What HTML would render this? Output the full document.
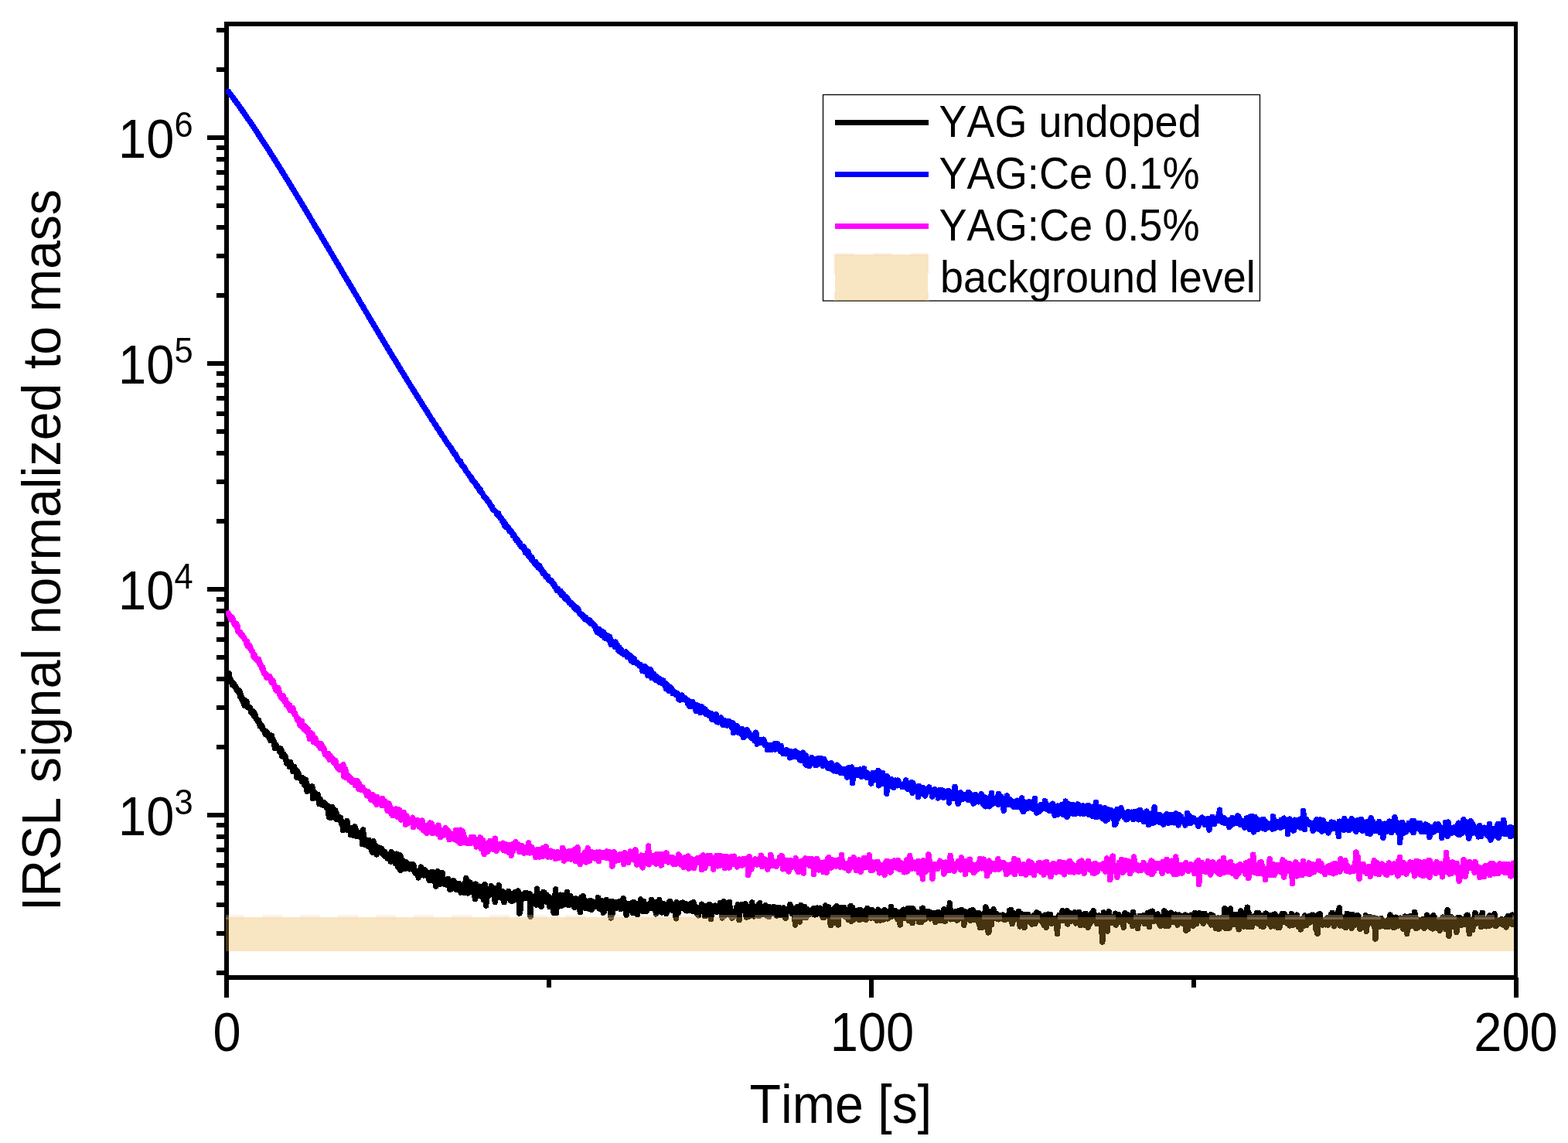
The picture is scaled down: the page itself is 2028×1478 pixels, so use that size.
<!DOCTYPE html>
<html><head><meta charset="utf-8"><title>IRSL signal vs time</title><style>
html,body{margin:0;padding:0;background:#fff;}
svg{display:block;}
text{font-family:"Liberation Sans", Arial, sans-serif;fill:#000;font-kerning:none;}
</style></head><body>
<svg width="2028" height="1478" viewBox="0 0 2028 1478">
<rect width="2028" height="1478" fill="#fff"/>
<g fill="#000"><rect x="268" y="1051" width="26" height="6"/><rect x="268" y="759" width="26" height="6"/><rect x="268" y="467" width="26" height="6"/><rect x="268" y="175" width="26" height="6"/><rect x="280" y="1255" width="14" height="6"/><rect x="280" y="1204" width="14" height="6"/><rect x="280" y="1167" width="14" height="6"/><rect x="280" y="1139" width="14" height="6"/><rect x="280" y="1116" width="14" height="6"/><rect x="280" y="1096" width="14" height="6"/><rect x="280" y="1079" width="14" height="6"/><rect x="280" y="1064" width="14" height="6"/><rect x="280" y="963" width="14" height="6"/><rect x="280" y="912" width="14" height="6"/><rect x="280" y="875" width="14" height="6"/><rect x="280" y="847" width="14" height="6"/><rect x="280" y="824" width="14" height="6"/><rect x="280" y="804" width="14" height="6"/><rect x="280" y="787" width="14" height="6"/><rect x="280" y="772" width="14" height="6"/><rect x="280" y="671" width="14" height="6"/><rect x="280" y="620" width="14" height="6"/><rect x="280" y="583" width="14" height="6"/><rect x="280" y="555" width="14" height="6"/><rect x="280" y="532" width="14" height="6"/><rect x="280" y="512" width="14" height="6"/><rect x="280" y="495" width="14" height="6"/><rect x="280" y="480" width="14" height="6"/><rect x="280" y="379" width="14" height="6"/><rect x="280" y="328" width="14" height="6"/><rect x="280" y="291" width="14" height="6"/><rect x="280" y="263" width="14" height="6"/><rect x="280" y="240" width="14" height="6"/><rect x="280" y="220" width="14" height="6"/><rect x="280" y="203" width="14" height="6"/><rect x="280" y="188" width="14" height="6"/><rect x="280" y="87" width="14" height="6"/><rect x="280" y="36" width="14" height="6"/><rect x="290" y="1264" width="6" height="26"/><rect x="1124" y="1264" width="6" height="26"/><rect x="1958" y="1264" width="6" height="26"/><rect x="707" y="1264" width="6" height="13"/><rect x="1541" y="1264" width="6" height="13"/>
<rect x="290" y="28" width="1673" height="6"/><rect x="290" y="1261" width="1673" height="6"/><rect x="290" y="28" width="6" height="1239"/><rect x="1958" y="28" width="5" height="1239"/></g>
<defs><clipPath id="pc"><rect x="291.5" y="31.0" width="1666.5" height="1233.0"/></clipPath></defs>
<g clip-path="url(#pc)" fill="none" stroke-width="7.5" stroke-linejoin="round" stroke-linecap="round" shape-rendering="crispEdges">
<polyline stroke="#000" points="295.5,877.9 296.3,870.8 297.2,878.7 298.0,878.3 298.8,882.1 299.7,881.5 300.5,885.8 301.3,883.4 302.2,883.7 303.0,887.0 303.8,888.0 304.7,887.8 305.5,889.3 306.3,892.4 307.2,893.7 308.0,892.6 308.8,894.1 309.7,892.9 310.5,901.0 311.3,898.2 312.2,902.7 313.0,902.0 313.8,906.7 314.7,907.0 315.5,905.6 316.3,912.7 317.2,905.6 318.0,911.4 318.8,907.1 319.7,911.9 320.5,914.7 321.3,914.1 322.2,914.1 323.0,914.5 323.8,916.6 324.7,920.9 325.5,921.8 326.3,920.5 327.2,919.7 328.0,925.0 328.8,921.8 329.6,924.8 330.5,925.6 331.3,930.0 332.1,930.1 333.0,931.8 333.8,932.6 334.6,931.7 335.5,935.6 336.3,938.9 337.1,936.7 338.0,939.4 338.8,938.8 339.6,942.8 340.5,943.1 341.3,944.8 342.1,944.7 343.0,949.1 343.8,945.4 344.6,946.6 345.5,947.2 346.3,951.2 347.1,949.5 348.0,950.6 348.8,955.0 349.6,957.3 350.5,956.9 351.3,951.1 352.1,955.6 353.0,956.5 353.8,957.4 354.6,960.3 355.5,967.2 356.3,962.8 357.1,962.9 358.0,967.6 358.8,967.1 359.6,968.3 360.5,967.5 361.3,970.3 362.1,972.5 363.0,968.1 363.8,969.9 364.6,977.6 365.5,978.0 366.3,975.6 367.1,975.5 368.0,978.6 368.8,977.3 369.6,980.4 370.5,987.0 371.3,983.8 372.1,987.7 373.0,985.0 373.8,987.6 374.6,991.6 375.5,985.5 376.3,988.9 377.1,990.5 378.0,992.7 378.8,997.5 379.6,995.9 380.5,991.4 381.3,995.4 382.1,994.8 383.0,995.8 383.8,1005.3 384.6,997.5 385.5,1001.9 386.3,1000.4 387.1,1005.8 388.0,1005.3 388.8,1005.7 389.6,1006.1 390.5,1010.7 391.3,1005.8 392.1,1007.4 393.0,1007.4 393.8,1015.3 394.6,1011.5 395.4,1008.2 396.3,1013.1 397.1,1023.3 397.9,1015.9 398.8,1019.7 399.6,1019.5 400.4,1019.1 401.3,1018.1 402.1,1020.0 402.9,1020.9 403.8,1017.1 404.6,1032.4 405.4,1027.6 406.3,1026.1 407.1,1026.0 407.9,1025.3 408.8,1031.5 409.6,1028.9 410.4,1031.8 411.3,1027.4 412.1,1034.4 412.9,1039.7 413.8,1033.1 414.6,1037.4 415.4,1035.8 416.3,1040.2 417.1,1041.0 417.9,1038.6 418.8,1037.6 419.6,1041.0 420.4,1041.1 421.3,1040.0 422.1,1044.2 422.9,1045.0 423.8,1041.8 424.6,1045.0 425.4,1056.7 426.3,1049.7 427.1,1048.1 427.9,1057.6 428.8,1046.9 429.6,1043.4 430.4,1045.6 431.3,1047.5 432.1,1054.4 432.9,1056.9 433.8,1048.1 434.6,1059.0 435.4,1052.3 436.3,1057.6 437.1,1059.1 437.9,1059.8 438.8,1059.2 439.6,1060.5 440.4,1057.2 441.3,1062.4 442.1,1065.7 442.9,1066.2 443.8,1073.6 444.6,1068.4 445.4,1067.8 446.3,1072.1 447.1,1067.6 447.9,1063.4 448.8,1061.5 449.6,1073.6 450.4,1071.7 451.3,1073.5 452.1,1070.0 452.9,1073.1 453.8,1079.7 454.6,1074.5 455.4,1070.4 456.3,1073.3 457.1,1080.5 457.9,1072.5 458.8,1069.0 459.6,1070.4 460.4,1073.8 461.3,1081.7 462.1,1079.8 462.9,1077.6 463.7,1076.6 464.6,1081.1 465.4,1081.6 466.2,1080.9 467.1,1082.6 467.9,1081.5 468.7,1091.7 469.6,1073.0 470.4,1086.5 471.2,1083.2 472.1,1092.4 472.9,1087.1 473.7,1089.9 474.6,1091.1 475.4,1090.5 476.2,1094.1 477.1,1086.3 477.9,1095.2 478.7,1091.4 479.6,1094.2 480.4,1099.5 481.2,1098.3 482.1,1102.5 482.9,1087.8 483.7,1092.3 484.6,1100.0 485.4,1092.9 486.2,1096.7 487.1,1104.8 487.9,1101.9 488.7,1095.6 489.6,1101.3 490.4,1102.6 491.2,1100.9 492.1,1100.8 492.9,1102.3 493.7,1097.1 494.6,1103.3 495.4,1099.9 496.2,1105.4 497.1,1106.0 497.9,1101.7 498.7,1107.8 499.6,1107.3 500.4,1106.2 501.2,1109.8 502.1,1106.2 502.9,1106.8 503.7,1108.7 504.6,1108.6 505.4,1114.0 506.2,1101.8 507.1,1109.1 507.9,1103.8 508.7,1109.3 509.6,1112.6 510.4,1112.1 511.2,1116.5 512.1,1114.2 512.9,1104.2 513.7,1109.7 514.6,1120.8 515.4,1121.3 516.2,1115.5 517.1,1105.6 517.9,1125.4 518.7,1109.1 519.6,1118.1 520.4,1117.1 521.2,1118.6 522.1,1113.7 522.9,1116.9 523.7,1123.4 524.6,1117.4 525.4,1114.6 526.2,1120.0 527.1,1120.8 527.9,1120.3 528.7,1118.2 529.5,1123.8 530.4,1121.5 531.2,1117.9 532.0,1123.7 532.9,1123.0 533.7,1124.1 534.5,1117.6 535.4,1121.3 536.2,1126.6 537.0,1129.0 537.9,1126.8 538.7,1126.8 539.5,1129.2 540.4,1130.8 541.2,1134.8 542.0,1129.3 542.9,1125.4 543.7,1130.0 544.5,1121.1 545.4,1129.0 546.2,1127.3 547.0,1129.3 547.9,1131.9 548.7,1130.3 549.5,1124.8 550.4,1128.0 551.2,1127.9 552.0,1131.4 552.9,1133.3 553.7,1128.2 554.5,1135.6 555.4,1138.6 556.2,1131.9 557.0,1136.6 557.9,1127.8 558.7,1131.7 559.5,1138.6 560.4,1127.7 561.2,1130.9 562.0,1128.4 562.9,1140.7 563.7,1146.1 564.5,1133.4 565.4,1136.8 566.2,1126.7 567.0,1140.7 567.9,1138.7 568.7,1143.5 569.5,1128.5 570.4,1139.5 571.2,1136.7 572.0,1128.5 572.9,1135.8 573.7,1138.6 574.5,1142.9 575.4,1140.4 576.2,1137.5 577.0,1143.9 577.9,1139.8 578.7,1137.7 579.5,1136.5 580.4,1141.7 581.2,1142.0 582.0,1150.4 582.9,1139.8 583.7,1149.7 584.5,1143.8 585.4,1148.0 586.2,1138.8 587.0,1139.2 587.9,1141.8 588.7,1147.6 589.5,1144.4 590.4,1150.7 591.2,1145.5 592.0,1149.2 592.9,1145.4 593.7,1142.4 594.5,1147.3 595.3,1145.6 596.2,1154.0 597.0,1144.8 597.8,1146.3 598.7,1144.6 599.5,1151.8 600.3,1154.7 601.2,1149.7 602.0,1141.4 602.8,1135.6 603.7,1148.4 604.5,1150.8 605.3,1154.9 606.2,1140.2 607.0,1147.2 607.8,1140.9 608.7,1144.1 609.5,1147.5 610.3,1153.4 611.2,1146.5 612.0,1145.8 612.8,1147.8 613.7,1155.7 614.5,1162.4 615.3,1143.1 616.2,1148.7 617.0,1148.1 617.8,1156.2 618.7,1152.6 619.5,1158.5 620.3,1146.2 621.2,1151.1 622.0,1149.0 622.8,1146.4 623.7,1150.7 624.5,1146.3 625.3,1163.4 626.2,1154.0 627.0,1143.7 627.8,1149.5 628.7,1171.0 629.5,1150.3 630.3,1156.2 631.2,1155.8 632.0,1158.7 632.8,1156.4 633.7,1152.4 634.5,1150.7 635.3,1145.8 636.2,1153.6 637.0,1154.6 637.8,1152.4 638.7,1153.5 639.5,1148.8 640.3,1166.4 641.2,1152.3 642.0,1150.0 642.8,1152.1 643.7,1154.3 644.5,1159.0 645.3,1144.8 646.2,1160.6 647.0,1152.7 647.8,1154.9 648.7,1161.2 649.5,1160.0 650.3,1152.9 651.2,1155.8 652.0,1166.7 652.8,1163.8 653.7,1161.2 654.5,1156.8 655.3,1162.0 656.2,1159.1 657.0,1154.5 657.8,1152.5 658.7,1160.1 659.5,1159.5 660.3,1164.1 661.2,1155.4 662.0,1165.4 662.8,1156.2 663.6,1164.8 664.5,1161.1 665.3,1155.6 666.1,1154.0 667.0,1158.0 667.8,1157.4 668.6,1163.8 669.5,1155.6 670.3,1152.2 671.1,1159.0 672.0,1181.0 672.8,1177.4 673.6,1156.4 674.5,1158.2 675.3,1162.8 676.1,1156.6 677.0,1158.7 677.8,1158.6 678.6,1155.1 679.5,1157.2 680.3,1157.9 681.1,1161.6 682.0,1154.9 682.8,1161.1 683.6,1156.0 684.5,1156.9 685.3,1155.6 686.1,1185.2 687.0,1167.8 687.8,1168.4 688.6,1165.5 689.5,1160.2 690.3,1162.1 691.1,1163.0 692.0,1164.0 692.8,1167.8 693.6,1170.1 694.5,1149.2 695.3,1159.3 696.1,1165.6 697.0,1160.4 697.8,1161.5 698.6,1170.4 699.5,1163.4 700.3,1172.3 701.1,1162.4 702.0,1163.9 702.8,1153.6 703.6,1153.9 704.5,1160.9 705.3,1163.4 706.1,1161.4 707.0,1156.9 707.8,1166.7 708.6,1163.8 709.5,1163.5 710.3,1159.8 711.1,1172.6 712.0,1171.7 712.8,1165.4 713.6,1163.3 714.5,1165.2 715.3,1173.3 716.1,1180.3 717.0,1164.2 717.8,1162.2 718.6,1149.9 719.5,1180.5 720.3,1159.2 721.1,1169.2 722.0,1167.2 722.8,1171.9 723.6,1160.6 724.5,1157.3 725.3,1165.7 726.1,1167.1 727.0,1171.2 727.8,1157.3 728.6,1163.0 729.4,1164.0 730.3,1159.0 731.1,1164.6 731.9,1169.7 732.8,1165.4 733.6,1153.7 734.4,1167.5 735.3,1170.3 736.1,1168.7 736.9,1170.1 737.8,1158.3 738.6,1168.5 739.4,1169.3 740.3,1164.3 741.1,1166.0 741.9,1162.6 742.8,1173.1 743.6,1165.0 744.4,1162.0 745.3,1167.6 746.1,1167.2 746.9,1170.2 747.8,1162.7 748.6,1163.5 749.4,1168.9 750.3,1179.6 751.1,1169.5 751.9,1160.6 752.8,1168.0 753.6,1160.3 754.4,1158.7 755.3,1164.0 756.1,1164.6 756.9,1169.7 757.8,1174.7 758.6,1173.7 759.4,1171.9 760.3,1165.6 761.1,1168.6 761.9,1167.6 762.8,1175.6 763.6,1164.7 764.4,1165.3 765.3,1176.3 766.1,1171.2 766.9,1165.9 767.8,1169.1 768.6,1169.1 769.4,1169.3 770.3,1172.7 771.1,1172.2 771.9,1167.6 772.8,1166.1 773.6,1160.6 774.4,1166.5 775.3,1174.9 776.1,1170.0 776.9,1165.6 777.8,1167.7 778.6,1164.8 779.4,1170.5 780.3,1180.4 781.1,1179.2 781.9,1175.7 782.8,1173.4 783.6,1168.2 784.4,1163.4 785.3,1169.5 786.1,1167.2 786.9,1174.0 787.8,1170.4 788.6,1166.8 789.4,1172.1 790.3,1186.9 791.1,1165.4 791.9,1182.2 792.8,1173.0 793.6,1169.5 794.4,1166.3 795.2,1170.2 796.1,1171.3 796.9,1174.3 797.7,1174.0 798.6,1171.9 799.4,1166.9 800.2,1171.9 801.1,1168.1 801.9,1165.4 802.7,1175.3 803.6,1167.2 804.4,1164.8 805.2,1171.1 806.1,1161.7 806.9,1170.4 807.7,1173.1 808.6,1166.9 809.4,1172.1 810.2,1183.2 811.1,1178.8 811.9,1176.0 812.7,1174.2 813.6,1168.5 814.4,1170.4 815.2,1169.7 816.1,1171.3 816.9,1171.9 817.7,1167.3 818.6,1180.3 819.4,1166.3 820.2,1175.1 821.1,1177.1 821.9,1171.4 822.7,1168.2 823.6,1171.7 824.4,1182.6 825.2,1175.0 826.1,1170.2 826.9,1174.8 827.7,1170.8 828.6,1163.1 829.4,1173.2 830.2,1177.6 831.1,1178.3 831.9,1171.7 832.7,1165.3 833.6,1178.6 834.4,1171.3 835.2,1176.1 836.1,1178.4 836.9,1174.0 837.7,1172.0 838.6,1169.2 839.4,1170.2 840.2,1172.6 841.1,1170.1 841.9,1174.4 842.7,1163.4 843.6,1167.6 844.4,1172.4 845.2,1169.2 846.1,1170.0 846.9,1167.2 847.7,1176.3 848.6,1181.9 849.4,1167.9 850.2,1179.1 851.1,1165.9 851.9,1173.6 852.7,1163.7 853.6,1175.6 854.4,1173.1 855.2,1174.4 856.1,1179.8 856.9,1176.3 857.7,1173.0 858.6,1169.1 859.4,1173.5 860.2,1169.8 861.1,1171.2 861.9,1181.5 862.7,1178.1 863.5,1174.9 864.4,1176.8 865.2,1166.6 866.0,1174.1 866.9,1165.5 867.7,1170.2 868.5,1175.5 869.4,1175.6 870.2,1177.4 871.0,1174.5 871.9,1174.0 872.7,1173.7 873.5,1181.5 874.4,1187.8 875.2,1166.9 876.0,1174.5 876.9,1181.0 877.7,1172.6 878.5,1175.1 879.4,1170.9 880.2,1168.2 881.0,1174.7 881.9,1171.9 882.7,1173.2 883.5,1167.1 884.4,1168.4 885.2,1173.3 886.0,1171.8 886.9,1176.9 887.7,1168.9 888.5,1177.8 889.4,1177.1 890.2,1174.5 891.0,1177.5 891.9,1173.7 892.7,1173.1 893.5,1174.0 894.4,1168.1 895.2,1174.0 896.0,1178.4 896.9,1166.7 897.7,1177.8 898.5,1171.1 899.4,1172.5 900.2,1174.8 901.0,1176.0 901.9,1181.8 902.7,1173.6 903.5,1183.9 904.4,1174.7 905.2,1178.6 906.0,1178.1 906.9,1171.3 907.7,1169.2 908.5,1175.3 909.4,1178.4 910.2,1179.4 911.0,1173.1 911.9,1184.7 912.7,1174.4 913.5,1171.7 914.4,1181.5 915.2,1181.9 916.0,1170.7 916.9,1179.9 917.7,1169.4 918.5,1175.8 919.4,1188.7 920.2,1182.9 921.0,1179.6 921.9,1179.4 922.7,1171.9 923.5,1177.8 924.4,1178.5 925.2,1171.1 926.0,1177.3 926.9,1179.2 927.7,1177.5 928.5,1178.7 929.3,1175.3 930.2,1170.9 931.0,1176.7 931.8,1167.5 932.7,1173.0 933.5,1182.6 934.3,1186.8 935.2,1178.9 936.0,1165.7 936.8,1184.2 937.7,1179.7 938.5,1175.2 939.3,1181.0 940.2,1179.9 941.0,1171.1 941.8,1170.7 942.7,1182.8 943.5,1166.5 944.3,1180.3 945.2,1178.8 946.0,1182.6 946.8,1187.1 947.7,1184.7 948.5,1186.1 949.3,1181.8 950.2,1180.1 951.0,1183.4 951.8,1177.4 952.7,1173.0 953.5,1177.1 954.3,1169.9 955.2,1174.8 956.0,1189.6 956.8,1180.5 957.7,1176.8 958.5,1172.4 959.3,1169.3 960.2,1175.0 961.0,1173.9 961.8,1177.8 962.7,1178.2 963.5,1177.5 964.3,1168.8 965.2,1186.0 966.0,1180.3 966.8,1178.0 967.7,1176.3 968.5,1180.3 969.3,1184.9 970.2,1181.3 971.0,1172.3 971.8,1171.9 972.7,1167.1 973.5,1178.7 974.3,1181.9 975.2,1184.8 976.0,1178.8 976.8,1182.5 977.7,1173.5 978.5,1180.9 979.3,1177.5 980.2,1174.8 981.0,1170.1 981.8,1184.5 982.7,1167.8 983.5,1181.6 984.3,1174.2 985.2,1181.5 986.0,1175.5 986.8,1182.4 987.7,1176.2 988.5,1173.2 989.3,1175.7 990.2,1170.7 991.0,1179.9 991.8,1184.2 992.7,1180.7 993.5,1179.1 994.3,1185.7 995.1,1172.8 996.0,1181.6 996.8,1178.7 997.6,1176.2 998.5,1181.6 999.3,1173.1 1000.1,1178.0 1001.0,1180.5 1001.8,1173.1 1002.6,1177.6 1003.5,1181.6 1004.3,1184.1 1005.1,1174.2 1006.0,1183.8 1006.8,1177.4 1007.6,1179.5 1008.5,1173.8 1009.3,1183.2 1010.1,1175.5 1011.0,1180.6 1011.8,1181.1 1012.6,1183.2 1013.5,1174.0 1014.3,1183.4 1015.1,1179.5 1016.0,1187.4 1016.8,1177.5 1017.6,1176.4 1018.5,1179.0 1019.3,1177.7 1020.1,1177.7 1021.0,1173.2 1021.8,1169.7 1022.6,1172.3 1023.5,1173.9 1024.3,1181.7 1025.1,1176.4 1026.0,1174.7 1026.8,1178.7 1027.6,1179.9 1028.5,1196.0 1029.3,1186.7 1030.1,1180.6 1031.0,1172.6 1031.8,1178.8 1032.6,1178.1 1033.5,1182.7 1034.3,1192.0 1035.1,1179.4 1036.0,1170.5 1036.8,1179.2 1037.6,1171.8 1038.5,1184.4 1039.3,1186.0 1040.1,1181.7 1041.0,1172.8 1041.8,1179.1 1042.6,1186.7 1043.5,1175.1 1044.3,1177.1 1045.1,1181.5 1046.0,1182.8 1046.8,1180.6 1047.6,1182.0 1048.5,1181.3 1049.3,1177.3 1050.1,1179.8 1051.0,1181.8 1051.8,1174.9 1052.6,1181.4 1053.5,1180.9 1054.3,1182.8 1055.1,1182.3 1056.0,1175.2 1056.8,1174.3 1057.6,1181.8 1058.5,1179.7 1059.3,1181.0 1060.1,1177.7 1061.0,1174.3 1061.8,1182.0 1062.6,1179.9 1063.4,1183.9 1064.3,1186.7 1065.1,1186.7 1065.9,1186.1 1066.8,1175.9 1067.6,1170.9 1068.4,1177.6 1069.3,1174.8 1070.1,1174.4 1070.9,1184.4 1071.8,1173.1 1072.6,1185.8 1073.4,1186.9 1074.3,1196.7 1075.1,1186.6 1075.9,1193.1 1076.8,1177.7 1077.6,1177.5 1078.4,1186.4 1079.3,1174.6 1080.1,1193.6 1080.9,1179.7 1081.8,1171.8 1082.6,1191.7 1083.4,1175.6 1084.3,1195.9 1085.1,1174.0 1085.9,1177.0 1086.8,1182.4 1087.6,1181.3 1088.4,1173.7 1089.3,1181.9 1090.1,1182.3 1090.9,1183.8 1091.8,1173.6 1092.6,1178.3 1093.4,1180.3 1094.3,1185.8 1095.1,1182.3 1095.9,1179.7 1096.8,1179.3 1097.6,1189.7 1098.4,1177.4 1099.3,1184.6 1100.1,1171.5 1100.9,1191.3 1101.8,1184.1 1102.6,1173.3 1103.4,1184.9 1104.3,1189.5 1105.1,1186.2 1105.9,1182.1 1106.8,1186.4 1107.6,1178.0 1108.4,1180.5 1109.3,1180.0 1110.1,1182.3 1110.9,1176.7 1111.8,1189.6 1112.6,1181.3 1113.4,1176.6 1114.3,1180.8 1115.1,1183.9 1115.9,1182.2 1116.8,1188.1 1117.6,1180.2 1118.4,1178.2 1119.3,1184.8 1120.1,1189.2 1120.9,1177.3 1121.8,1174.5 1122.6,1178.9 1123.4,1181.8 1124.3,1177.1 1125.1,1183.1 1125.9,1177.9 1126.8,1187.1 1127.6,1176.4 1128.4,1177.7 1129.2,1182.7 1130.1,1186.0 1130.9,1187.4 1131.7,1178.9 1132.6,1182.5 1133.4,1185.3 1134.2,1190.4 1135.1,1178.0 1135.9,1176.3 1136.7,1185.0 1137.6,1181.2 1138.4,1190.0 1139.2,1182.6 1140.1,1184.3 1140.9,1178.6 1141.7,1184.1 1142.6,1189.4 1143.4,1181.3 1144.2,1176.8 1145.1,1187.5 1145.9,1181.1 1146.7,1183.0 1147.6,1179.1 1148.4,1187.9 1149.2,1179.0 1150.1,1180.3 1150.9,1182.8 1151.7,1181.7 1152.6,1172.4 1153.4,1185.3 1154.2,1177.1 1155.1,1184.2 1155.9,1180.9 1156.7,1182.3 1157.6,1179.2 1158.4,1177.7 1159.2,1183.7 1160.1,1184.1 1160.9,1188.5 1161.7,1185.9 1162.6,1179.5 1163.4,1189.5 1164.2,1195.9 1165.1,1187.0 1165.9,1182.1 1166.7,1178.3 1167.6,1183.6 1168.4,1176.2 1169.2,1187.5 1170.1,1181.2 1170.9,1180.3 1171.7,1184.6 1172.6,1177.1 1173.4,1174.9 1174.2,1181.0 1175.1,1190.0 1175.9,1179.0 1176.7,1188.1 1177.6,1174.6 1178.4,1183.0 1179.2,1186.1 1180.1,1193.6 1180.9,1175.0 1181.7,1183.1 1182.6,1178.9 1183.4,1185.1 1184.2,1180.6 1185.1,1184.0 1185.9,1179.7 1186.7,1180.7 1187.6,1185.7 1188.4,1191.9 1189.2,1184.7 1190.1,1184.2 1190.9,1181.2 1191.7,1192.5 1192.6,1174.5 1193.4,1174.3 1194.2,1179.8 1195.0,1186.0 1195.9,1188.9 1196.7,1186.8 1197.5,1187.8 1198.4,1184.6 1199.2,1181.4 1200.0,1178.5 1200.9,1186.2 1201.7,1179.1 1202.5,1186.1 1203.4,1187.9 1204.2,1180.8 1205.0,1181.6 1205.9,1181.1 1206.7,1187.6 1207.5,1184.8 1208.4,1180.6 1209.2,1185.4 1210.0,1192.5 1210.9,1185.5 1211.7,1184.7 1212.5,1182.0 1213.4,1179.4 1214.2,1184.1 1215.0,1184.5 1215.9,1181.0 1216.7,1190.7 1217.5,1183.0 1218.4,1183.4 1219.2,1185.2 1220.0,1187.1 1220.9,1175.7 1221.7,1185.6 1222.5,1191.2 1223.4,1178.8 1224.2,1186.4 1225.0,1181.7 1225.9,1179.4 1226.7,1186.9 1227.5,1183.9 1228.4,1167.8 1229.2,1181.4 1230.0,1188.8 1230.9,1181.5 1231.7,1180.7 1232.5,1180.8 1233.4,1182.2 1234.2,1188.5 1235.0,1180.3 1235.9,1178.8 1236.7,1186.9 1237.5,1190.0 1238.4,1188.4 1239.2,1189.2 1240.0,1181.4 1240.9,1177.6 1241.7,1181.2 1242.5,1184.6 1243.4,1176.6 1244.2,1183.2 1245.0,1187.9 1245.9,1181.3 1246.7,1196.2 1247.5,1188.9 1248.4,1178.9 1249.2,1179.3 1250.0,1181.3 1250.9,1188.7 1251.7,1187.4 1252.5,1182.1 1253.4,1185.8 1254.2,1189.3 1255.0,1190.3 1255.9,1177.3 1256.7,1179.7 1257.5,1180.5 1258.4,1176.8 1259.2,1189.7 1260.0,1181.8 1260.9,1181.8 1261.7,1180.9 1262.5,1188.1 1263.3,1188.2 1264.2,1188.8 1265.0,1192.0 1265.8,1180.6 1266.7,1194.3 1267.5,1199.7 1268.3,1182.5 1269.2,1183.4 1270.0,1188.5 1270.8,1198.9 1271.7,1183.9 1272.5,1181.3 1273.3,1197.3 1274.2,1182.8 1275.0,1173.0 1275.8,1188.3 1276.7,1190.9 1277.5,1195.1 1278.3,1205.9 1279.2,1204.1 1280.0,1182.6 1280.8,1180.6 1281.7,1178.5 1282.5,1195.3 1283.3,1183.3 1284.2,1177.5 1285.0,1175.9 1285.8,1186.3 1286.7,1183.4 1287.5,1187.3 1288.3,1181.3 1289.2,1181.9 1290.0,1188.2 1290.8,1184.6 1291.7,1188.8 1292.5,1185.0 1293.3,1184.2 1294.2,1187.7 1295.0,1184.1 1295.8,1186.7 1296.7,1188.2 1297.5,1183.2 1298.3,1185.2 1299.2,1186.4 1300.0,1189.5 1300.8,1187.1 1301.7,1187.2 1302.5,1188.4 1303.3,1184.3 1304.2,1187.8 1305.0,1182.2 1305.8,1177.2 1306.7,1188.1 1307.5,1176.7 1308.3,1185.2 1309.2,1194.6 1310.0,1189.9 1310.8,1180.9 1311.7,1190.0 1312.5,1187.3 1313.3,1181.8 1314.2,1185.5 1315.0,1183.4 1315.8,1184.5 1316.7,1187.9 1317.5,1178.6 1318.3,1190.8 1319.2,1197.8 1320.0,1185.3 1320.8,1181.3 1321.7,1184.1 1322.5,1193.0 1323.3,1183.7 1324.2,1188.8 1325.0,1199.6 1325.8,1182.6 1326.7,1186.8 1327.5,1183.4 1328.3,1184.4 1329.1,1187.0 1330.0,1182.6 1330.8,1188.8 1331.6,1188.2 1332.5,1192.9 1333.3,1190.2 1334.1,1188.5 1335.0,1195.0 1335.8,1185.5 1336.6,1190.0 1337.5,1183.3 1338.3,1194.6 1339.1,1182.9 1340.0,1192.0 1340.8,1180.1 1341.6,1187.9 1342.5,1181.4 1343.3,1182.9 1344.1,1182.1 1345.0,1189.2 1345.8,1189.7 1346.6,1191.0 1347.5,1189.1 1348.3,1185.9 1349.1,1190.7 1350.0,1195.9 1350.8,1185.1 1351.6,1183.3 1352.5,1190.2 1353.3,1199.1 1354.1,1186.8 1355.0,1185.5 1355.8,1182.2 1356.6,1183.6 1357.5,1182.6 1358.3,1182.5 1359.1,1193.2 1360.0,1194.5 1360.8,1187.9 1361.6,1188.0 1362.5,1192.0 1363.3,1187.6 1364.1,1188.1 1365.0,1190.8 1365.8,1187.4 1366.6,1194.9 1367.5,1207.6 1368.3,1187.7 1369.1,1189.2 1370.0,1183.5 1370.8,1185.4 1371.6,1188.2 1372.5,1190.0 1373.3,1186.8 1374.1,1177.5 1375.0,1189.9 1375.8,1185.0 1376.6,1190.0 1377.5,1186.7 1378.3,1187.2 1379.1,1187.4 1380.0,1177.7 1380.8,1194.9 1381.6,1183.3 1382.5,1189.9 1383.3,1191.0 1384.1,1185.0 1385.0,1181.2 1385.8,1191.1 1386.6,1183.1 1387.5,1187.8 1388.3,1190.5 1389.1,1185.5 1390.0,1179.6 1390.8,1184.5 1391.6,1193.9 1392.5,1183.8 1393.3,1192.9 1394.1,1180.4 1394.9,1183.1 1395.8,1179.4 1396.6,1183.1 1397.4,1196.6 1398.3,1191.0 1399.1,1186.5 1399.9,1184.7 1400.8,1194.3 1401.6,1187.2 1402.4,1182.9 1403.3,1196.7 1404.1,1181.3 1404.9,1188.9 1405.8,1191.4 1406.6,1193.2 1407.4,1199.3 1408.3,1192.5 1409.1,1184.3 1409.9,1194.3 1410.8,1189.5 1411.6,1181.8 1412.4,1182.5 1413.3,1183.7 1414.1,1177.6 1414.9,1190.2 1415.8,1190.9 1416.6,1190.5 1417.4,1183.7 1418.3,1187.6 1419.1,1194.6 1419.9,1189.9 1420.8,1187.1 1421.6,1184.1 1422.4,1187.7 1423.3,1195.1 1424.1,1188.0 1424.9,1201.4 1425.8,1218.0 1426.6,1191.9 1427.4,1180.0 1428.3,1186.6 1429.1,1195.1 1429.9,1185.1 1430.8,1184.5 1431.6,1188.1 1432.4,1204.1 1433.3,1185.6 1434.1,1178.7 1434.9,1189.6 1435.8,1190.2 1436.6,1192.1 1437.4,1188.4 1438.3,1189.9 1439.1,1185.6 1439.9,1193.4 1440.8,1187.9 1441.6,1190.9 1442.4,1181.2 1443.3,1196.0 1444.1,1189.4 1444.9,1185.9 1445.8,1188.4 1446.6,1182.6 1447.4,1185.0 1448.3,1192.7 1449.1,1191.5 1449.9,1192.8 1450.8,1192.1 1451.6,1186.7 1452.4,1188.7 1453.3,1199.2 1454.1,1187.6 1454.9,1180.7 1455.8,1188.1 1456.6,1186.0 1457.4,1187.6 1458.3,1188.3 1459.1,1183.0 1459.9,1190.4 1460.8,1187.3 1461.6,1191.4 1462.4,1184.6 1463.2,1183.2 1464.1,1185.9 1464.9,1197.6 1465.7,1179.5 1466.6,1194.2 1467.4,1187.9 1468.2,1194.6 1469.1,1186.1 1469.9,1190.2 1470.7,1190.1 1471.6,1200.5 1472.4,1187.5 1473.2,1189.4 1474.1,1184.3 1474.9,1189.8 1475.7,1184.4 1476.6,1187.6 1477.4,1190.2 1478.2,1191.2 1479.1,1183.6 1479.9,1183.7 1480.7,1194.7 1481.6,1185.5 1482.4,1189.2 1483.2,1186.8 1484.1,1180.6 1484.9,1187.7 1485.7,1187.6 1486.6,1198.4 1487.4,1179.2 1488.2,1185.6 1489.1,1191.7 1489.9,1185.6 1490.7,1178.2 1491.6,1191.7 1492.4,1189.2 1493.2,1184.1 1494.1,1183.4 1494.9,1184.9 1495.7,1189.4 1496.6,1187.4 1497.4,1182.0 1498.2,1190.2 1499.1,1194.2 1499.9,1185.3 1500.7,1197.2 1501.6,1188.6 1502.4,1191.6 1503.2,1190.6 1504.1,1191.1 1504.9,1189.6 1505.7,1177.9 1506.6,1183.7 1507.4,1197.4 1508.2,1183.2 1509.1,1189.0 1509.9,1180.9 1510.7,1185.3 1511.6,1197.0 1512.4,1189.7 1513.2,1184.1 1514.1,1182.1 1514.9,1180.3 1515.7,1190.8 1516.6,1187.1 1517.4,1192.3 1518.2,1192.6 1519.1,1186.8 1519.9,1183.6 1520.7,1182.4 1521.6,1186.2 1522.4,1188.4 1523.2,1196.0 1524.1,1183.6 1524.9,1190.7 1525.7,1183.1 1526.6,1185.4 1527.4,1192.5 1528.2,1191.1 1529.0,1185.6 1529.9,1185.0 1530.7,1194.4 1531.5,1187.4 1532.4,1186.8 1533.2,1183.1 1534.0,1203.1 1534.9,1198.9 1535.7,1191.2 1536.5,1201.4 1537.4,1191.1 1538.2,1184.8 1539.0,1191.5 1539.9,1196.6 1540.7,1183.2 1541.5,1195.6 1542.4,1195.4 1543.2,1197.3 1544.0,1191.5 1544.9,1195.1 1545.7,1180.6 1546.5,1188.6 1547.4,1194.7 1548.2,1192.0 1549.0,1190.5 1549.9,1182.9 1550.7,1188.2 1551.5,1180.8 1552.4,1187.8 1553.2,1190.9 1554.0,1186.5 1554.9,1191.8 1555.7,1189.2 1556.5,1194.1 1557.4,1187.4 1558.2,1181.4 1559.0,1183.0 1559.9,1185.4 1560.7,1189.2 1561.5,1189.8 1562.4,1185.5 1563.2,1189.9 1564.0,1186.0 1564.9,1192.9 1565.7,1182.8 1566.5,1195.9 1567.4,1190.9 1568.2,1187.4 1569.0,1184.1 1569.9,1192.5 1570.7,1186.5 1571.5,1196.7 1572.4,1200.3 1573.2,1190.6 1574.0,1191.0 1574.9,1192.7 1575.7,1187.0 1576.5,1201.2 1577.4,1188.8 1578.2,1193.8 1579.0,1191.9 1579.9,1187.1 1580.7,1197.9 1581.5,1192.2 1582.4,1186.9 1583.2,1186.9 1584.0,1174.7 1584.9,1184.9 1585.7,1200.5 1586.5,1195.2 1587.4,1185.7 1588.2,1194.0 1589.0,1196.1 1589.9,1200.0 1590.7,1197.8 1591.5,1175.1 1592.4,1191.7 1593.2,1185.7 1594.0,1194.4 1594.8,1186.8 1595.7,1191.2 1596.5,1195.6 1597.3,1182.8 1598.2,1187.2 1599.0,1187.0 1599.8,1190.4 1600.7,1182.8 1601.5,1194.9 1602.3,1201.8 1603.2,1189.0 1604.0,1193.3 1604.8,1178.0 1605.7,1184.3 1606.5,1194.0 1607.3,1191.9 1608.2,1194.0 1609.0,1197.9 1609.8,1190.8 1610.7,1189.0 1611.5,1187.8 1612.3,1190.8 1613.2,1173.2 1614.0,1198.7 1614.8,1179.8 1615.7,1182.3 1616.5,1190.5 1617.3,1195.3 1618.2,1193.1 1619.0,1198.7 1619.8,1187.8 1620.7,1186.7 1621.5,1193.1 1622.3,1184.4 1623.2,1191.2 1624.0,1192.9 1624.8,1191.7 1625.7,1180.3 1626.5,1188.8 1627.3,1180.3 1628.2,1194.8 1629.0,1187.7 1629.8,1195.6 1630.7,1197.5 1631.5,1183.3 1632.3,1195.1 1633.2,1192.2 1634.0,1198.6 1634.8,1183.8 1635.7,1183.7 1636.5,1186.1 1637.3,1181.2 1638.2,1190.8 1639.0,1186.4 1639.8,1191.2 1640.7,1191.9 1641.5,1194.8 1642.3,1183.5 1643.2,1194.1 1644.0,1197.9 1644.8,1185.1 1645.7,1186.9 1646.5,1182.9 1647.3,1197.0 1648.2,1197.7 1649.0,1182.1 1649.8,1189.5 1650.7,1192.3 1651.5,1193.9 1652.3,1189.7 1653.2,1199.6 1654.0,1185.4 1654.8,1199.3 1655.7,1190.6 1656.5,1191.7 1657.3,1186.4 1658.2,1181.7 1659.0,1187.4 1659.8,1192.7 1660.7,1185.9 1661.5,1181.9 1662.3,1189.3 1663.1,1190.0 1664.0,1185.1 1664.8,1189.6 1665.6,1194.3 1666.5,1191.3 1667.3,1195.3 1668.1,1196.9 1669.0,1190.0 1669.8,1186.1 1670.6,1181.8 1671.5,1195.8 1672.3,1192.1 1673.1,1195.9 1674.0,1186.1 1674.8,1190.9 1675.6,1186.1 1676.5,1185.7 1677.3,1183.1 1678.1,1189.1 1679.0,1192.9 1679.8,1198.5 1680.6,1191.6 1681.5,1188.8 1682.3,1202.0 1683.1,1199.1 1684.0,1196.0 1684.8,1191.1 1685.6,1197.5 1686.5,1186.4 1687.3,1184.0 1688.1,1193.8 1689.0,1191.3 1689.8,1196.2 1690.6,1186.4 1691.5,1193.2 1692.3,1185.1 1693.1,1188.6 1694.0,1192.9 1694.8,1190.0 1695.6,1185.6 1696.5,1183.3 1697.3,1188.4 1698.1,1185.8 1699.0,1183.3 1699.8,1190.9 1700.6,1185.8 1701.5,1197.6 1702.3,1202.6 1703.1,1196.7 1704.0,1207.4 1704.8,1184.4 1705.6,1182.2 1706.5,1189.7 1707.3,1182.0 1708.1,1191.3 1709.0,1195.4 1709.8,1194.8 1710.6,1196.0 1711.5,1189.5 1712.3,1190.2 1713.1,1191.9 1714.0,1190.3 1714.8,1195.8 1715.6,1188.5 1716.5,1190.4 1717.3,1187.0 1718.1,1196.0 1719.0,1191.3 1719.8,1191.3 1720.6,1188.1 1721.5,1182.0 1722.3,1188.3 1723.1,1180.3 1724.0,1190.3 1724.8,1184.5 1725.6,1197.8 1726.5,1187.3 1727.3,1190.3 1728.1,1188.1 1728.9,1184.9 1729.8,1183.1 1730.6,1179.0 1731.4,1187.3 1732.3,1174.0 1733.1,1196.9 1733.9,1184.2 1734.8,1187.5 1735.6,1190.5 1736.4,1189.8 1737.3,1197.2 1738.1,1190.3 1738.9,1188.1 1739.8,1190.0 1740.6,1199.5 1741.4,1195.0 1742.3,1181.3 1743.1,1189.7 1743.9,1186.1 1744.8,1190.8 1745.6,1194.2 1746.4,1190.8 1747.3,1194.1 1748.1,1200.5 1748.9,1182.3 1749.8,1190.2 1750.6,1191.1 1751.4,1193.3 1752.3,1191.3 1753.1,1196.0 1753.9,1190.7 1754.8,1193.2 1755.6,1183.3 1756.4,1191.9 1757.3,1184.8 1758.1,1194.1 1758.9,1201.1 1759.8,1190.6 1760.6,1193.3 1761.4,1195.1 1762.3,1198.8 1763.1,1195.3 1763.9,1198.0 1764.8,1188.3 1765.6,1190.7 1766.4,1183.9 1767.3,1204.2 1768.1,1185.2 1768.9,1196.2 1769.8,1192.0 1770.6,1192.4 1771.4,1185.3 1772.3,1191.0 1773.1,1192.1 1773.9,1193.4 1774.8,1189.4 1775.6,1192.5 1776.4,1186.3 1777.3,1198.1 1778.1,1187.9 1778.9,1214.0 1779.8,1189.6 1780.6,1187.9 1781.4,1192.3 1782.3,1190.6 1783.1,1197.5 1783.9,1198.3 1784.8,1188.2 1785.6,1188.0 1786.4,1187.6 1787.3,1194.1 1788.1,1197.0 1788.9,1195.2 1789.8,1190.8 1790.6,1192.2 1791.4,1195.2 1792.3,1198.7 1793.1,1191.4 1793.9,1198.3 1794.7,1189.8 1795.6,1192.7 1796.4,1198.0 1797.2,1187.2 1798.1,1183.2 1798.9,1186.0 1799.7,1190.8 1800.6,1186.4 1801.4,1190.9 1802.2,1199.5 1803.1,1189.7 1803.9,1199.2 1804.7,1196.5 1805.6,1186.2 1806.4,1197.1 1807.2,1196.5 1808.1,1197.1 1808.9,1192.8 1809.7,1193.1 1810.6,1188.8 1811.4,1187.2 1812.2,1191.4 1813.1,1195.6 1813.9,1188.6 1814.7,1201.2 1815.6,1189.4 1816.4,1193.6 1817.2,1185.1 1818.1,1200.8 1818.9,1195.9 1819.7,1207.3 1820.6,1185.8 1821.4,1200.3 1822.2,1194.6 1823.1,1188.8 1823.9,1189.9 1824.7,1184.5 1825.6,1191.1 1826.4,1197.1 1827.2,1187.7 1828.1,1194.2 1828.9,1186.0 1829.7,1179.6 1830.6,1191.1 1831.4,1200.7 1832.2,1198.9 1833.1,1188.6 1833.9,1199.3 1834.7,1198.0 1835.6,1194.1 1836.4,1190.1 1837.2,1197.6 1838.1,1191.4 1838.9,1189.9 1839.7,1197.9 1840.6,1188.3 1841.4,1195.7 1842.2,1200.5 1843.1,1188.3 1843.9,1192.8 1844.7,1194.8 1845.6,1183.2 1846.4,1189.2 1847.2,1188.9 1848.1,1189.0 1848.9,1187.3 1849.7,1199.1 1850.6,1187.1 1851.4,1190.8 1852.2,1195.0 1853.1,1200.8 1853.9,1183.8 1854.7,1185.2 1855.6,1186.3 1856.4,1190.1 1857.2,1197.0 1858.1,1191.0 1858.9,1192.5 1859.7,1200.6 1860.6,1190.0 1861.4,1192.7 1862.2,1203.4 1863.0,1196.2 1863.9,1188.6 1864.7,1188.4 1865.5,1198.2 1866.4,1186.0 1867.2,1187.3 1868.0,1196.3 1868.9,1199.6 1869.7,1201.6 1870.5,1186.9 1871.4,1194.8 1872.2,1176.9 1873.0,1187.5 1873.9,1210.1 1874.7,1201.1 1875.5,1196.0 1876.4,1187.2 1877.2,1185.7 1878.0,1198.4 1878.9,1191.2 1879.7,1187.9 1880.5,1196.2 1881.4,1195.9 1882.2,1188.5 1883.0,1189.8 1883.9,1205.5 1884.7,1187.1 1885.5,1197.9 1886.4,1188.5 1887.2,1187.7 1888.0,1186.8 1888.9,1191.5 1889.7,1192.1 1890.5,1196.3 1891.4,1188.3 1892.2,1194.5 1893.0,1189.2 1893.9,1188.4 1894.7,1195.7 1895.5,1194.7 1896.4,1184.6 1897.2,1193.0 1898.0,1183.2 1898.9,1186.7 1899.7,1201.6 1900.5,1207.7 1901.4,1191.1 1902.2,1195.5 1903.0,1199.4 1903.9,1202.2 1904.7,1202.2 1905.5,1188.1 1906.4,1191.8 1907.2,1192.6 1908.0,1180.5 1908.9,1188.1 1909.7,1194.2 1910.5,1190.8 1911.4,1188.8 1912.2,1186.0 1913.0,1188.9 1913.9,1191.8 1914.7,1188.8 1915.5,1198.4 1916.4,1196.5 1917.2,1180.4 1918.0,1197.2 1918.9,1192.1 1919.7,1196.2 1920.5,1188.5 1921.4,1197.0 1922.2,1188.3 1923.0,1197.8 1923.9,1191.8 1924.7,1190.6 1925.5,1185.3 1926.4,1184.0 1927.2,1196.9 1928.0,1186.3 1928.8,1186.0 1929.7,1194.2 1930.5,1192.1 1931.3,1195.2 1932.2,1185.4 1933.0,1181.8 1933.8,1187.4 1934.7,1197.7 1935.5,1191.8 1936.3,1194.4 1937.2,1194.9 1938.0,1192.9 1938.8,1193.0 1939.7,1190.0 1940.5,1193.2 1941.3,1193.8 1942.2,1188.7 1943.0,1195.4 1943.8,1192.1 1944.7,1191.6 1945.5,1191.2 1946.3,1197.0 1947.2,1191.3 1948.0,1198.9 1948.8,1187.0 1949.7,1195.3 1950.5,1184.4 1951.3,1192.4 1952.2,1189.5 1953.0,1189.7 1953.8,1186.8 1954.7,1191.9 1955.5,1195.1 1956.3,1183.1 1957.2,1191.4 1958.0,1194.0 1958.8,1195.5 1959.7,1194.1 1960.5,1186.6"/>
<polyline stroke="#ff00ff" points="295.5,792.9 296.3,796.0 297.2,796.9 298.0,798.2 298.8,801.1 299.7,797.8 300.5,800.1 301.3,800.4 302.2,803.8 303.0,807.0 303.8,806.6 304.7,808.9 305.5,806.2 306.3,811.3 307.2,809.2 308.0,816.6 308.8,816.4 309.7,817.9 310.5,817.5 311.3,820.0 312.2,821.5 313.0,820.5 313.8,821.4 314.7,824.2 315.5,824.6 316.3,826.0 317.2,827.9 318.0,828.4 318.8,832.5 319.7,829.5 320.5,835.2 321.3,833.9 322.2,835.4 323.0,835.3 323.8,838.8 324.7,839.9 325.5,842.1 326.3,842.0 327.2,844.5 328.0,849.1 328.8,847.7 329.6,847.2 330.5,851.4 331.3,850.6 332.1,853.3 333.0,854.7 333.8,854.0 334.6,852.4 335.5,856.7 336.3,859.7 337.1,859.2 338.0,862.1 338.8,864.4 339.6,862.7 340.5,867.5 341.3,869.5 342.1,871.7 343.0,871.2 343.8,872.3 344.6,875.9 345.5,873.1 346.3,873.9 347.1,876.4 348.0,874.6 348.8,874.5 349.6,877.1 350.5,880.9 351.3,882.4 352.1,879.5 353.0,880.0 353.8,883.9 354.6,886.0 355.5,887.5 356.3,890.2 357.1,892.6 358.0,891.7 358.8,893.8 359.6,889.3 360.5,892.4 361.3,896.6 362.1,898.7 363.0,900.0 363.8,902.1 364.6,902.6 365.5,903.8 366.3,899.5 367.1,902.9 368.0,906.6 368.8,908.1 369.6,904.7 370.5,911.7 371.3,908.5 372.1,911.0 373.0,913.2 373.8,915.5 374.6,911.8 375.5,918.3 376.3,917.4 377.1,916.7 378.0,918.9 378.8,915.7 379.6,920.3 380.5,923.3 381.3,922.4 382.1,924.4 383.0,926.0 383.8,927.5 384.6,930.9 385.5,929.6 386.3,930.1 387.1,933.1 388.0,937.8 388.8,933.2 389.6,936.3 390.5,932.5 391.3,940.4 392.1,939.9 393.0,942.6 393.8,940.4 394.6,939.1 395.4,944.7 396.3,945.5 397.1,942.7 397.9,942.3 398.8,947.9 399.6,947.5 400.4,955.3 401.3,947.1 402.1,949.7 402.9,951.8 403.8,949.0 404.6,951.9 405.4,959.1 406.3,955.8 407.1,955.6 407.9,955.0 408.8,960.6 409.6,961.8 410.4,961.8 411.3,961.1 412.1,963.9 412.9,965.0 413.8,963.3 414.6,967.6 415.4,961.6 416.3,964.7 417.1,968.1 417.9,969.6 418.8,967.8 419.6,972.6 420.4,975.4 421.3,974.8 422.1,975.2 422.9,977.7 423.8,977.5 424.6,974.4 425.4,977.7 426.3,982.6 427.1,977.1 427.9,981.2 428.8,979.9 429.6,980.4 430.4,981.0 431.3,984.8 432.1,986.3 432.9,987.2 433.8,983.3 434.6,987.3 435.4,989.9 436.3,992.4 437.1,992.5 437.9,993.8 438.8,995.3 439.6,995.5 440.4,991.8 441.3,995.0 442.1,993.8 442.9,990.0 443.8,988.6 444.6,1004.0 445.4,993.1 446.3,993.6 447.1,997.5 447.9,1005.7 448.8,1002.1 449.6,1004.2 450.4,1003.0 451.3,1004.3 452.1,1008.9 452.9,1008.4 453.8,1006.7 454.6,1010.2 455.4,1011.5 456.3,1008.6 457.1,1010.7 457.9,1011.4 458.8,1009.5 459.6,1015.5 460.4,1012.4 461.3,1011.9 462.1,1009.6 462.9,1011.5 463.7,1020.2 464.6,1013.2 465.4,1018.5 466.2,1016.9 467.1,1021.5 467.9,1021.1 468.7,1017.8 469.6,1019.9 470.4,1021.7 471.2,1022.4 472.1,1022.7 472.9,1022.5 473.7,1026.0 474.6,1028.7 475.4,1027.0 476.2,1023.9 477.1,1027.9 477.9,1027.7 478.7,1029.4 479.6,1034.2 480.4,1028.7 481.2,1029.9 482.1,1027.9 482.9,1030.3 483.7,1030.1 484.6,1037.2 485.4,1033.9 486.2,1031.9 487.1,1040.1 487.9,1030.8 488.7,1038.0 489.6,1039.1 490.4,1038.3 491.2,1036.4 492.1,1037.4 492.9,1037.3 493.7,1041.3 494.6,1032.3 495.4,1038.5 496.2,1041.1 497.1,1039.3 497.9,1036.1 498.7,1041.5 499.6,1040.4 500.4,1045.8 501.2,1048.2 502.1,1044.6 502.9,1038.9 503.7,1044.8 504.6,1043.1 505.4,1048.6 506.2,1052.3 507.1,1048.5 507.9,1054.4 508.7,1053.3 509.6,1051.2 510.4,1046.8 511.2,1050.6 512.1,1046.2 512.9,1054.6 513.7,1052.2 514.6,1056.7 515.4,1053.7 516.2,1047.1 517.1,1055.8 517.9,1057.2 518.7,1060.0 519.6,1052.0 520.4,1052.6 521.2,1056.3 522.1,1050.4 522.9,1052.5 523.7,1053.8 524.6,1066.2 525.4,1056.1 526.2,1055.3 527.1,1057.5 527.9,1059.4 528.7,1064.0 529.5,1063.3 530.4,1063.2 531.2,1061.2 532.0,1062.0 532.9,1059.7 533.7,1057.3 534.5,1069.4 535.4,1061.5 536.2,1066.8 537.0,1062.7 537.9,1063.9 538.7,1064.0 539.5,1060.3 540.4,1065.0 541.2,1067.0 542.0,1068.8 542.9,1068.1 543.7,1070.2 544.5,1068.1 545.4,1067.5 546.2,1061.2 547.0,1066.4 547.9,1073.8 548.7,1069.3 549.5,1071.9 550.4,1068.8 551.2,1067.6 552.0,1077.2 552.9,1071.8 553.7,1076.0 554.5,1073.0 555.4,1070.5 556.2,1064.1 557.0,1072.5 557.9,1067.1 558.7,1065.1 559.5,1077.4 560.4,1075.9 561.2,1076.0 562.0,1074.2 562.9,1074.2 563.7,1076.1 564.5,1075.5 565.4,1075.9 566.2,1078.1 567.0,1067.2 567.9,1079.2 568.7,1074.1 569.5,1082.6 570.4,1081.1 571.2,1074.2 572.0,1080.3 572.9,1080.5 573.7,1075.4 574.5,1074.7 575.4,1078.8 576.2,1070.7 577.0,1077.3 577.9,1079.8 578.7,1077.8 579.5,1073.9 580.4,1078.5 581.2,1085.6 582.0,1085.1 582.9,1080.2 583.7,1078.0 584.5,1081.1 585.4,1081.5 586.2,1079.1 587.0,1080.6 587.9,1084.3 588.7,1085.7 589.5,1073.6 590.4,1086.3 591.2,1083.5 592.0,1087.4 592.9,1083.4 593.7,1085.3 594.5,1089.9 595.3,1073.2 596.2,1090.2 597.0,1085.2 597.8,1078.0 598.7,1075.1 599.5,1086.3 600.3,1081.6 601.2,1089.3 602.0,1086.6 602.8,1085.5 603.7,1089.9 604.5,1087.1 605.3,1089.3 606.2,1089.9 607.0,1089.3 607.8,1090.1 608.7,1090.3 609.5,1082.4 610.3,1086.7 611.2,1087.5 612.0,1086.7 612.8,1082.3 613.7,1086.3 614.5,1089.9 615.3,1089.6 616.2,1094.8 617.0,1086.9 617.8,1087.7 618.7,1087.3 619.5,1088.5 620.3,1087.6 621.2,1082.9 622.0,1091.5 622.8,1097.6 623.7,1094.9 624.5,1086.5 625.3,1090.1 626.2,1104.6 627.0,1090.8 627.8,1092.7 628.7,1090.9 629.5,1095.6 630.3,1095.6 631.2,1101.0 632.0,1094.1 632.8,1094.0 633.7,1087.7 634.5,1091.0 635.3,1090.0 636.2,1091.6 637.0,1087.9 637.8,1098.0 638.7,1089.2 639.5,1094.5 640.3,1084.2 641.2,1095.1 642.0,1100.4 642.8,1090.8 643.7,1095.6 644.5,1094.0 645.3,1095.6 646.2,1096.2 647.0,1092.2 647.8,1094.1 648.7,1092.6 649.5,1091.8 650.3,1090.3 651.2,1099.2 652.0,1092.5 652.8,1098.3 653.7,1100.0 654.5,1091.9 655.3,1100.2 656.2,1092.7 657.0,1098.7 657.8,1102.2 658.7,1093.6 659.5,1092.9 660.3,1092.9 661.2,1106.0 662.0,1095.4 662.8,1092.0 663.6,1100.4 664.5,1096.6 665.3,1097.2 666.1,1093.5 667.0,1088.6 667.8,1094.8 668.6,1093.6 669.5,1091.4 670.3,1093.6 671.1,1094.3 672.0,1101.5 672.8,1101.2 673.6,1100.5 674.5,1096.4 675.3,1093.6 676.1,1099.9 677.0,1100.7 677.8,1103.0 678.6,1098.9 679.5,1098.6 680.3,1100.5 681.1,1095.6 682.0,1096.2 682.8,1102.1 683.6,1089.9 684.5,1099.4 685.3,1103.0 686.1,1100.9 687.0,1101.8 687.8,1095.6 688.6,1099.7 689.5,1098.2 690.3,1102.9 691.1,1102.2 692.0,1100.7 692.8,1108.5 693.6,1103.0 694.5,1099.7 695.3,1098.5 696.1,1100.9 697.0,1098.9 697.8,1108.0 698.6,1103.7 699.5,1100.2 700.3,1098.9 701.1,1097.3 702.0,1100.6 702.8,1107.2 703.6,1105.3 704.5,1101.8 705.3,1102.7 706.1,1094.5 707.0,1105.4 707.8,1101.4 708.6,1108.0 709.5,1101.8 710.3,1100.6 711.1,1103.5 712.0,1100.1 712.8,1108.3 713.6,1104.1 714.5,1104.5 715.3,1105.8 716.1,1101.7 717.0,1105.2 717.8,1104.0 718.6,1110.6 719.5,1103.7 720.3,1105.1 721.1,1101.8 722.0,1102.2 722.8,1102.6 723.6,1109.2 724.5,1104.3 725.3,1108.1 726.1,1103.1 727.0,1102.8 727.8,1096.4 728.6,1107.8 729.4,1113.0 730.3,1103.6 731.1,1110.6 731.9,1108.2 732.8,1102.0 733.6,1108.0 734.4,1101.2 735.3,1103.8 736.1,1110.1 736.9,1105.8 737.8,1100.3 738.6,1111.1 739.4,1100.8 740.3,1104.7 741.1,1104.0 741.9,1104.8 742.8,1102.0 743.6,1098.8 744.4,1113.4 745.3,1101.8 746.1,1102.1 746.9,1095.7 747.8,1106.3 748.6,1111.3 749.4,1111.9 750.3,1117.6 751.1,1112.4 751.9,1107.9 752.8,1106.4 753.6,1112.3 754.4,1106.3 755.3,1107.3 756.1,1102.6 756.9,1107.0 757.8,1114.9 758.6,1106.4 759.4,1108.4 760.3,1096.8 761.1,1112.5 761.9,1108.5 762.8,1112.9 763.6,1108.0 764.4,1103.5 765.3,1101.4 766.1,1109.2 766.9,1107.2 767.8,1103.1 768.6,1106.9 769.4,1104.6 770.3,1110.3 771.1,1105.6 771.9,1102.2 772.8,1107.0 773.6,1105.0 774.4,1113.6 775.3,1105.5 776.1,1101.9 776.9,1107.2 777.8,1106.4 778.6,1108.6 779.4,1108.4 780.3,1103.2 781.1,1107.3 781.9,1107.2 782.8,1102.6 783.6,1105.3 784.4,1109.1 785.3,1101.0 786.1,1103.2 786.9,1105.8 787.8,1107.4 788.6,1110.0 789.4,1102.1 790.3,1109.1 791.1,1110.5 791.9,1120.0 792.8,1106.2 793.6,1104.2 794.4,1101.6 795.2,1110.4 796.1,1113.6 796.9,1105.3 797.7,1110.1 798.6,1112.0 799.4,1112.5 800.2,1106.8 801.1,1111.3 801.9,1108.5 802.7,1104.7 803.6,1109.9 804.4,1110.4 805.2,1104.9 806.1,1110.9 806.9,1117.6 807.7,1102.8 808.6,1112.2 809.4,1113.2 810.2,1109.5 811.1,1110.8 811.9,1108.3 812.7,1115.2 813.6,1105.5 814.4,1108.9 815.2,1101.2 816.1,1110.9 816.9,1111.1 817.7,1102.4 818.6,1105.9 819.4,1111.6 820.2,1107.5 821.1,1104.5 821.9,1099.0 822.7,1111.2 823.6,1118.0 824.4,1107.8 825.2,1111.6 826.1,1111.6 826.9,1109.5 827.7,1110.3 828.6,1110.4 829.4,1106.2 830.2,1120.7 831.1,1121.7 831.9,1111.4 832.7,1117.8 833.6,1106.6 834.4,1109.2 835.2,1115.1 836.1,1105.3 836.9,1104.7 837.7,1111.8 838.6,1094.0 839.4,1117.8 840.2,1113.7 841.1,1111.6 841.9,1113.5 842.7,1106.7 843.6,1106.6 844.4,1114.3 845.2,1114.8 846.1,1111.5 846.9,1110.4 847.7,1108.6 848.6,1117.0 849.4,1104.6 850.2,1107.3 851.1,1108.8 851.9,1104.5 852.7,1105.4 853.6,1106.7 854.4,1115.6 855.2,1119.1 856.1,1112.8 856.9,1104.3 857.7,1108.7 858.6,1110.8 859.4,1110.3 860.2,1109.9 861.1,1113.7 861.9,1103.1 862.7,1109.1 863.5,1112.5 864.4,1114.8 865.2,1112.9 866.0,1111.8 866.9,1111.2 867.7,1108.9 868.5,1112.2 869.4,1111.0 870.2,1108.9 871.0,1117.2 871.9,1117.2 872.7,1110.5 873.5,1114.8 874.4,1117.4 875.2,1113.4 876.0,1112.8 876.9,1114.4 877.7,1105.1 878.5,1106.1 879.4,1114.7 880.2,1113.6 881.0,1118.4 881.9,1110.3 882.7,1117.3 883.5,1117.2 884.4,1121.2 885.2,1109.1 886.0,1111.1 886.9,1113.9 887.7,1113.9 888.5,1108.4 889.4,1110.3 890.2,1107.1 891.0,1123.0 891.9,1112.5 892.7,1112.9 893.5,1110.2 894.4,1113.1 895.2,1116.5 896.0,1111.6 896.9,1112.9 897.7,1122.6 898.5,1117.2 899.4,1114.2 900.2,1111.3 901.0,1113.1 901.9,1109.9 902.7,1115.7 903.5,1110.3 904.4,1110.1 905.2,1111.5 906.0,1108.6 906.9,1114.2 907.7,1124.4 908.5,1110.6 909.4,1106.0 910.2,1117.6 911.0,1112.9 911.9,1122.1 912.7,1115.0 913.5,1117.5 914.4,1110.0 915.2,1106.4 916.0,1112.6 916.9,1116.3 917.7,1109.6 918.5,1106.4 919.4,1110.8 920.2,1111.5 921.0,1112.0 921.9,1113.3 922.7,1124.0 923.5,1113.6 924.4,1109.1 925.2,1108.7 926.0,1117.0 926.9,1106.6 927.7,1119.9 928.5,1113.5 929.3,1107.0 930.2,1114.4 931.0,1113.1 931.8,1119.0 932.7,1107.1 933.5,1114.6 934.3,1113.6 935.2,1117.8 936.0,1108.8 936.8,1110.4 937.7,1122.5 938.5,1116.3 939.3,1107.3 940.2,1115.3 941.0,1110.4 941.8,1110.9 942.7,1108.6 943.5,1121.9 944.3,1111.6 945.2,1114.9 946.0,1114.4 946.8,1107.4 947.7,1110.8 948.5,1117.5 949.3,1107.2 950.2,1115.2 951.0,1113.7 951.8,1117.0 952.7,1117.2 953.5,1120.8 954.3,1114.5 955.2,1115.4 956.0,1111.2 956.8,1112.0 957.7,1118.3 958.5,1111.8 959.3,1119.0 960.2,1118.9 961.0,1111.0 961.8,1117.0 962.7,1111.0 963.5,1116.1 964.3,1111.2 965.2,1116.1 966.0,1115.4 966.8,1110.1 967.7,1131.7 968.5,1119.0 969.3,1107.7 970.2,1116.3 971.0,1112.9 971.8,1123.9 972.7,1114.6 973.5,1116.6 974.3,1114.1 975.2,1117.7 976.0,1112.6 976.8,1111.0 977.7,1112.8 978.5,1113.2 979.3,1117.8 980.2,1115.5 981.0,1113.2 981.8,1113.4 982.7,1111.1 983.5,1115.8 984.3,1106.2 985.2,1114.3 986.0,1120.5 986.8,1113.7 987.7,1112.4 988.5,1115.5 989.3,1111.2 990.2,1112.0 991.0,1118.4 991.8,1112.6 992.7,1124.1 993.5,1117.9 994.3,1115.0 995.1,1112.8 996.0,1114.4 996.8,1105.5 997.6,1116.7 998.5,1119.5 999.3,1118.1 1000.1,1113.7 1001.0,1118.4 1001.8,1118.5 1002.6,1115.1 1003.5,1117.3 1004.3,1120.3 1005.1,1117.8 1006.0,1114.1 1006.8,1115.9 1007.6,1116.5 1008.5,1108.7 1009.3,1116.4 1010.1,1115.3 1011.0,1106.3 1011.8,1108.3 1012.6,1123.9 1013.5,1116.4 1014.3,1122.0 1015.1,1114.3 1016.0,1122.8 1016.8,1118.6 1017.6,1113.0 1018.5,1117.3 1019.3,1123.1 1020.1,1126.8 1021.0,1118.5 1021.8,1112.4 1022.6,1112.4 1023.5,1119.3 1024.3,1121.1 1025.1,1116.9 1026.0,1115.9 1026.8,1120.0 1027.6,1118.6 1028.5,1118.2 1029.3,1109.6 1030.1,1115.0 1031.0,1124.9 1031.8,1116.4 1032.6,1127.3 1033.5,1118.3 1034.3,1115.3 1035.1,1117.8 1036.0,1119.3 1036.8,1113.4 1037.6,1117.7 1038.5,1113.1 1039.3,1129.0 1040.1,1114.7 1041.0,1117.2 1041.8,1110.0 1042.6,1110.7 1043.5,1116.0 1044.3,1112.7 1045.1,1115.5 1046.0,1117.9 1046.8,1119.3 1047.6,1110.6 1048.5,1116.0 1049.3,1119.8 1050.1,1113.9 1051.0,1111.1 1051.8,1113.8 1052.6,1130.7 1053.5,1117.0 1054.3,1123.9 1055.1,1115.6 1056.0,1122.3 1056.8,1110.6 1057.6,1115.9 1058.5,1117.5 1059.3,1124.9 1060.1,1119.2 1061.0,1122.1 1061.8,1115.3 1062.6,1115.3 1063.4,1122.9 1064.3,1123.6 1065.1,1127.6 1065.9,1122.6 1066.8,1114.9 1067.6,1126.9 1068.4,1118.0 1069.3,1128.1 1070.1,1120.7 1070.9,1109.5 1071.8,1108.7 1072.6,1110.2 1073.4,1117.2 1074.3,1122.4 1075.1,1115.3 1075.9,1121.2 1076.8,1111.9 1077.6,1114.7 1078.4,1113.5 1079.3,1117.6 1080.1,1112.4 1080.9,1116.7 1081.8,1120.2 1082.6,1115.5 1083.4,1113.6 1084.3,1115.6 1085.1,1112.1 1085.9,1113.0 1086.8,1121.2 1087.6,1119.2 1088.4,1105.4 1089.3,1116.4 1090.1,1119.7 1090.9,1121.3 1091.8,1120.6 1092.6,1122.1 1093.4,1117.6 1094.3,1117.7 1095.1,1116.7 1095.9,1122.7 1096.8,1121.7 1097.6,1125.8 1098.4,1122.9 1099.3,1114.2 1100.1,1111.3 1100.9,1111.7 1101.8,1113.9 1102.6,1120.7 1103.4,1111.6 1104.3,1108.8 1105.1,1117.1 1105.9,1121.6 1106.8,1121.4 1107.6,1125.5 1108.4,1117.8 1109.3,1115.5 1110.1,1116.6 1110.9,1112.0 1111.8,1115.0 1112.6,1123.8 1113.4,1127.4 1114.3,1123.7 1115.1,1119.3 1115.9,1116.9 1116.8,1119.1 1117.6,1109.6 1118.4,1120.6 1119.3,1121.6 1120.1,1117.5 1120.9,1118.2 1121.8,1110.5 1122.6,1121.6 1123.4,1121.7 1124.3,1105.7 1125.1,1115.5 1125.9,1119.7 1126.8,1125.7 1127.6,1114.3 1128.4,1118.0 1129.2,1124.8 1130.1,1120.4 1130.9,1117.2 1131.7,1116.3 1132.6,1118.4 1133.4,1114.7 1134.2,1122.9 1135.1,1114.4 1135.9,1120.9 1136.7,1122.6 1137.6,1128.8 1138.4,1119.6 1139.2,1118.7 1140.1,1120.2 1140.9,1119.1 1141.7,1123.7 1142.6,1118.4 1143.4,1127.6 1144.2,1131.5 1145.1,1116.0 1145.9,1120.8 1146.7,1113.7 1147.6,1122.3 1148.4,1120.8 1149.2,1118.0 1150.1,1114.3 1150.9,1119.1 1151.7,1128.0 1152.6,1126.2 1153.4,1120.7 1154.2,1116.2 1155.1,1118.9 1155.9,1115.4 1156.7,1112.9 1157.6,1114.7 1158.4,1121.8 1159.2,1120.4 1160.1,1119.8 1160.9,1114.0 1161.7,1112.6 1162.6,1123.6 1163.4,1117.4 1164.2,1124.4 1165.1,1115.7 1165.9,1123.5 1166.7,1120.2 1167.6,1117.1 1168.4,1117.1 1169.2,1127.8 1170.1,1123.3 1170.9,1117.9 1171.7,1119.9 1172.6,1112.1 1173.4,1126.9 1174.2,1125.5 1175.1,1117.3 1175.9,1121.3 1176.7,1106.7 1177.6,1123.6 1178.4,1121.4 1179.2,1120.4 1180.1,1123.0 1180.9,1120.6 1181.7,1114.8 1182.6,1116.1 1183.4,1118.4 1184.2,1123.3 1185.1,1119.3 1185.9,1116.2 1186.7,1120.8 1187.6,1113.6 1188.4,1128.6 1189.2,1120.6 1190.1,1114.8 1190.9,1120.0 1191.7,1124.1 1192.6,1121.7 1193.4,1136.8 1194.2,1112.8 1195.0,1126.5 1195.9,1119.2 1196.7,1123.3 1197.5,1127.1 1198.4,1113.9 1199.2,1112.9 1200.0,1117.6 1200.9,1105.0 1201.7,1110.2 1202.5,1119.8 1203.4,1124.7 1204.2,1117.3 1205.0,1121.7 1205.9,1136.1 1206.7,1121.0 1207.5,1118.1 1208.4,1118.8 1209.2,1121.5 1210.0,1118.2 1210.9,1122.7 1211.7,1120.5 1212.5,1123.7 1213.4,1120.3 1214.2,1119.2 1215.0,1115.4 1215.9,1113.3 1216.7,1117.2 1217.5,1117.9 1218.4,1120.9 1219.2,1119.3 1220.0,1117.9 1220.9,1130.0 1221.7,1122.5 1222.5,1125.2 1223.4,1115.1 1224.2,1124.3 1225.0,1125.1 1225.9,1121.8 1226.7,1115.7 1227.5,1125.5 1228.4,1116.5 1229.2,1106.4 1230.0,1112.4 1230.9,1120.1 1231.7,1117.6 1232.5,1123.5 1233.4,1122.9 1234.2,1126.1 1235.0,1121.4 1235.9,1120.9 1236.7,1119.9 1237.5,1116.3 1238.4,1116.1 1239.2,1113.6 1240.0,1121.0 1240.9,1116.0 1241.7,1119.5 1242.5,1124.8 1243.4,1109.0 1244.2,1115.9 1245.0,1115.4 1245.9,1119.8 1246.7,1113.1 1247.5,1116.8 1248.4,1130.3 1249.2,1113.7 1250.0,1119.5 1250.9,1120.8 1251.7,1118.5 1252.5,1114.4 1253.4,1124.4 1254.2,1111.2 1255.0,1115.5 1255.9,1118.8 1256.7,1117.0 1257.5,1125.2 1258.4,1118.4 1259.2,1128.5 1260.0,1119.7 1260.9,1126.8 1261.7,1121.7 1262.5,1118.6 1263.3,1118.4 1264.2,1124.4 1265.0,1117.3 1265.8,1119.6 1266.7,1116.1 1267.5,1110.4 1268.3,1122.2 1269.2,1122.7 1270.0,1114.2 1270.8,1121.9 1271.7,1118.7 1272.5,1111.1 1273.3,1115.5 1274.2,1122.8 1275.0,1124.6 1275.8,1122.9 1276.7,1132.6 1277.5,1121.5 1278.3,1116.5 1279.2,1113.2 1280.0,1126.8 1280.8,1117.8 1281.7,1118.3 1282.5,1116.3 1283.3,1116.3 1284.2,1118.4 1285.0,1122.2 1285.8,1122.6 1286.7,1121.7 1287.5,1124.5 1288.3,1118.0 1289.2,1115.5 1290.0,1120.0 1290.8,1110.9 1291.7,1124.2 1292.5,1122.7 1293.3,1122.8 1294.2,1115.4 1295.0,1118.1 1295.8,1120.5 1296.7,1115.8 1297.5,1115.4 1298.3,1119.4 1299.2,1121.1 1300.0,1117.4 1300.8,1125.1 1301.7,1130.6 1302.5,1125.4 1303.3,1119.6 1304.2,1119.0 1305.0,1127.9 1305.8,1121.9 1306.7,1123.3 1307.5,1121.5 1308.3,1117.9 1309.2,1127.5 1310.0,1119.4 1310.8,1121.8 1311.7,1110.7 1312.5,1130.5 1313.3,1124.0 1314.2,1120.1 1315.0,1113.6 1315.8,1117.8 1316.7,1112.8 1317.5,1122.7 1318.3,1116.6 1319.2,1122.6 1320.0,1124.5 1320.8,1129.4 1321.7,1121.6 1322.5,1122.0 1323.3,1123.0 1324.2,1117.9 1325.0,1119.6 1325.8,1122.2 1326.7,1130.9 1327.5,1124.2 1328.3,1119.6 1329.1,1126.4 1330.0,1119.1 1330.8,1113.9 1331.6,1128.1 1332.5,1121.0 1333.3,1118.9 1334.1,1115.5 1335.0,1119.0 1335.8,1128.8 1336.6,1120.8 1337.5,1131.3 1338.3,1121.3 1339.1,1126.4 1340.0,1121.3 1340.8,1119.1 1341.6,1119.3 1342.5,1120.0 1343.3,1115.7 1344.1,1115.6 1345.0,1122.9 1345.8,1127.0 1346.6,1122.0 1347.5,1121.5 1348.3,1117.1 1349.1,1126.5 1350.0,1130.9 1350.8,1116.0 1351.6,1121.7 1352.5,1119.8 1353.3,1114.5 1354.1,1128.8 1355.0,1126.8 1355.8,1122.9 1356.6,1127.9 1357.5,1119.1 1358.3,1122.7 1359.1,1133.6 1360.0,1120.1 1360.8,1122.9 1361.6,1117.0 1362.5,1124.5 1363.3,1126.8 1364.1,1117.0 1365.0,1117.8 1365.8,1121.1 1366.6,1127.9 1367.5,1119.1 1368.3,1117.6 1369.1,1120.9 1370.0,1126.7 1370.8,1114.4 1371.6,1120.2 1372.5,1127.4 1373.3,1121.2 1374.1,1120.1 1375.0,1125.3 1375.8,1115.8 1376.6,1130.8 1377.5,1123.6 1378.3,1118.2 1379.1,1121.7 1380.0,1121.0 1380.8,1120.0 1381.6,1115.7 1382.5,1120.2 1383.3,1113.4 1384.1,1127.6 1385.0,1116.1 1385.8,1117.9 1386.6,1117.6 1387.5,1124.6 1388.3,1120.3 1389.1,1127.9 1390.0,1119.2 1390.8,1122.0 1391.6,1121.0 1392.5,1119.7 1393.3,1126.4 1394.1,1126.9 1394.9,1127.3 1395.8,1114.9 1396.6,1122.9 1397.4,1116.1 1398.3,1116.0 1399.1,1113.0 1399.9,1117.0 1400.8,1124.1 1401.6,1127.7 1402.4,1129.3 1403.3,1117.2 1404.1,1118.5 1404.9,1122.4 1405.8,1122.0 1406.6,1122.4 1407.4,1113.3 1408.3,1120.5 1409.1,1124.1 1409.9,1122.6 1410.8,1120.8 1411.6,1118.1 1412.4,1121.0 1413.3,1128.8 1414.1,1123.7 1414.9,1126.3 1415.8,1129.1 1416.6,1116.4 1417.4,1124.5 1418.3,1123.5 1419.1,1127.5 1419.9,1120.3 1420.8,1120.4 1421.6,1118.4 1422.4,1122.2 1423.3,1120.1 1424.1,1120.7 1424.9,1122.9 1425.8,1119.6 1426.6,1117.1 1427.4,1119.5 1428.3,1118.9 1429.1,1123.4 1429.9,1127.1 1430.8,1119.8 1431.6,1110.1 1432.4,1124.1 1433.3,1121.1 1434.1,1117.1 1434.9,1120.2 1435.8,1137.5 1436.6,1114.5 1437.4,1116.0 1438.3,1121.1 1439.1,1107.1 1439.9,1119.3 1440.8,1125.9 1441.6,1123.9 1442.4,1123.1 1443.3,1119.9 1444.1,1120.7 1444.9,1134.1 1445.8,1122.5 1446.6,1127.7 1447.4,1115.7 1448.3,1122.6 1449.1,1123.1 1449.9,1122.2 1450.8,1111.5 1451.6,1119.5 1452.4,1128.2 1453.3,1124.0 1454.1,1117.9 1454.9,1125.5 1455.8,1112.9 1456.6,1124.2 1457.4,1123.1 1458.3,1118.7 1459.1,1116.8 1459.9,1113.9 1460.8,1120.5 1461.6,1129.5 1462.4,1125.5 1463.2,1123.4 1464.1,1125.8 1464.9,1118.8 1465.7,1124.0 1466.6,1108.1 1467.4,1119.3 1468.2,1119.3 1469.1,1121.2 1469.9,1120.7 1470.7,1124.3 1471.6,1118.7 1472.4,1125.8 1473.2,1120.4 1474.1,1125.6 1474.9,1122.1 1475.7,1125.5 1476.6,1123.7 1477.4,1118.7 1478.2,1122.4 1479.1,1115.5 1479.9,1121.7 1480.7,1123.3 1481.6,1120.3 1482.4,1120.8 1483.2,1126.1 1484.1,1127.1 1484.9,1128.1 1485.7,1118.9 1486.6,1119.6 1487.4,1125.2 1488.2,1125.7 1489.1,1113.1 1489.9,1130.7 1490.7,1126.9 1491.6,1115.8 1492.4,1126.9 1493.2,1119.7 1494.1,1121.1 1494.9,1117.1 1495.7,1117.9 1496.6,1119.9 1497.4,1122.1 1498.2,1116.6 1499.1,1121.4 1499.9,1118.4 1500.7,1119.3 1501.6,1117.6 1502.4,1118.8 1503.2,1129.2 1504.1,1114.3 1504.9,1115.7 1505.7,1121.4 1506.6,1119.4 1507.4,1116.9 1508.2,1123.6 1509.1,1111.3 1509.9,1121.7 1510.7,1126.2 1511.6,1124.4 1512.4,1120.4 1513.2,1121.8 1514.1,1122.6 1514.9,1124.6 1515.7,1113.2 1516.6,1127.7 1517.4,1128.2 1518.2,1130.4 1519.1,1125.7 1519.9,1126.6 1520.7,1108.1 1521.6,1119.8 1522.4,1130.4 1523.2,1123.6 1524.1,1119.7 1524.9,1125.0 1525.7,1122.2 1526.6,1125.1 1527.4,1118.5 1528.2,1124.3 1529.0,1128.9 1529.9,1123.0 1530.7,1123.9 1531.5,1118.6 1532.4,1124.1 1533.2,1120.0 1534.0,1115.6 1534.9,1119.9 1535.7,1120.8 1536.5,1124.5 1537.4,1126.3 1538.2,1120.9 1539.0,1120.2 1539.9,1124.8 1540.7,1117.7 1541.5,1120.3 1542.4,1120.8 1543.2,1121.1 1544.0,1119.1 1544.9,1129.5 1545.7,1126.4 1546.5,1121.1 1547.4,1115.2 1548.2,1119.6 1549.0,1124.7 1549.9,1112.9 1550.7,1143.7 1551.5,1121.6 1552.4,1121.7 1553.2,1127.3 1554.0,1115.3 1554.9,1122.3 1555.7,1121.9 1556.5,1125.3 1557.4,1117.3 1558.2,1124.9 1559.0,1127.5 1559.9,1123.4 1560.7,1119.5 1561.5,1118.0 1562.4,1113.7 1563.2,1119.3 1564.0,1124.4 1564.9,1129.0 1565.7,1131.0 1566.5,1127.6 1567.4,1119.8 1568.2,1120.0 1569.0,1114.9 1569.9,1118.9 1570.7,1116.8 1571.5,1120.9 1572.4,1125.2 1573.2,1121.5 1574.0,1120.5 1574.9,1128.0 1575.7,1129.1 1576.5,1127.1 1577.4,1114.2 1578.2,1130.2 1579.0,1120.1 1579.9,1115.4 1580.7,1120.4 1581.5,1126.8 1582.4,1109.7 1583.2,1128.2 1584.0,1123.2 1584.9,1124.8 1585.7,1115.7 1586.5,1119.6 1587.4,1116.8 1588.2,1127.7 1589.0,1118.5 1589.9,1123.9 1590.7,1119.1 1591.5,1114.4 1592.4,1126.3 1593.2,1127.7 1594.0,1129.2 1594.8,1119.6 1595.7,1122.4 1596.5,1128.2 1597.3,1123.7 1598.2,1123.2 1599.0,1133.1 1599.8,1120.2 1600.7,1129.9 1601.5,1119.7 1602.3,1128.9 1603.2,1121.0 1604.0,1117.6 1604.8,1125.8 1605.7,1122.5 1606.5,1120.5 1607.3,1121.2 1608.2,1119.4 1609.0,1124.7 1609.8,1123.8 1610.7,1130.1 1611.5,1116.0 1612.3,1129.0 1613.2,1124.9 1614.0,1115.7 1614.8,1135.5 1615.7,1114.0 1616.5,1124.7 1617.3,1113.6 1618.2,1123.6 1619.0,1120.6 1619.8,1121.1 1620.7,1105.2 1621.5,1118.8 1622.3,1127.9 1623.2,1125.3 1624.0,1122.1 1624.8,1121.9 1625.7,1119.4 1626.5,1129.3 1627.3,1122.4 1628.2,1127.7 1629.0,1115.6 1629.8,1115.3 1630.7,1129.0 1631.5,1114.9 1632.3,1121.7 1633.2,1124.9 1634.0,1127.0 1634.8,1125.7 1635.7,1125.3 1636.5,1137.5 1637.3,1124.0 1638.2,1127.1 1639.0,1123.0 1639.8,1123.6 1640.7,1131.7 1641.5,1121.6 1642.3,1110.9 1643.2,1123.2 1644.0,1123.7 1644.8,1131.4 1645.7,1121.0 1646.5,1117.3 1647.3,1123.4 1648.2,1131.5 1649.0,1121.1 1649.8,1128.8 1650.7,1125.1 1651.5,1125.8 1652.3,1118.8 1653.2,1123.4 1654.0,1118.9 1654.8,1122.7 1655.7,1119.3 1656.5,1127.8 1657.3,1120.1 1658.2,1121.5 1659.0,1112.0 1659.8,1117.9 1660.7,1134.1 1661.5,1118.8 1662.3,1114.8 1663.1,1122.4 1664.0,1121.3 1664.8,1120.0 1665.6,1119.5 1666.5,1120.2 1667.3,1126.8 1668.1,1116.7 1669.0,1123.4 1669.8,1126.4 1670.6,1118.2 1671.5,1142.6 1672.3,1122.7 1673.1,1121.9 1674.0,1119.8 1674.8,1126.2 1675.6,1114.9 1676.5,1125.2 1677.3,1132.9 1678.1,1124.1 1679.0,1126.5 1679.8,1118.2 1680.6,1126.3 1681.5,1118.9 1682.3,1120.5 1683.1,1122.7 1684.0,1131.7 1684.8,1119.9 1685.6,1113.5 1686.5,1123.3 1687.3,1126.4 1688.1,1125.9 1689.0,1124.9 1689.8,1129.3 1690.6,1127.0 1691.5,1126.8 1692.3,1120.9 1693.1,1116.0 1694.0,1130.6 1694.8,1118.8 1695.6,1129.0 1696.5,1128.5 1697.3,1117.4 1698.1,1119.9 1699.0,1125.0 1699.8,1127.6 1700.6,1118.5 1701.5,1121.6 1702.3,1118.1 1703.1,1117.2 1704.0,1123.4 1704.8,1120.7 1705.6,1113.3 1706.5,1124.9 1707.3,1119.6 1708.1,1121.1 1709.0,1116.6 1709.8,1126.4 1710.6,1124.4 1711.5,1124.4 1712.3,1122.6 1713.1,1124.6 1714.0,1130.5 1714.8,1123.8 1715.6,1124.1 1716.5,1120.8 1717.3,1126.1 1718.1,1121.8 1719.0,1119.5 1719.8,1128.3 1720.6,1122.2 1721.5,1118.8 1722.3,1119.6 1723.1,1120.5 1724.0,1117.8 1724.8,1129.8 1725.6,1125.8 1726.5,1116.5 1727.3,1128.6 1728.1,1121.2 1728.9,1124.2 1729.8,1121.2 1730.6,1125.0 1731.4,1124.8 1732.3,1126.6 1733.1,1126.9 1733.9,1110.7 1734.8,1120.5 1735.6,1122.7 1736.4,1121.8 1737.3,1115.8 1738.1,1119.2 1738.9,1121.8 1739.8,1112.9 1740.6,1118.5 1741.4,1126.0 1742.3,1119.0 1743.1,1121.6 1743.9,1122.5 1744.8,1124.9 1745.6,1125.9 1746.4,1127.5 1747.3,1123.1 1748.1,1124.1 1748.9,1122.0 1749.8,1123.6 1750.6,1122.1 1751.4,1126.2 1752.3,1126.0 1753.1,1116.2 1753.9,1102.1 1754.8,1124.8 1755.6,1120.2 1756.4,1108.6 1757.3,1127.2 1758.1,1136.1 1758.9,1117.3 1759.8,1118.2 1760.6,1119.5 1761.4,1118.9 1762.3,1122.1 1763.1,1117.3 1763.9,1122.5 1764.8,1120.7 1765.6,1127.6 1766.4,1122.1 1767.3,1126.8 1768.1,1129.7 1768.9,1127.1 1769.8,1125.7 1770.6,1120.3 1771.4,1122.7 1772.3,1133.5 1773.1,1129.2 1773.9,1122.8 1774.8,1120.7 1775.6,1121.9 1776.4,1127.8 1777.3,1112.9 1778.1,1123.8 1778.9,1116.3 1779.8,1129.4 1780.6,1115.8 1781.4,1127.0 1782.3,1121.2 1783.1,1122.7 1783.9,1130.5 1784.8,1122.3 1785.6,1125.9 1786.4,1124.5 1787.3,1117.1 1788.1,1122.5 1788.9,1127.3 1789.8,1124.4 1790.6,1123.6 1791.4,1119.3 1792.3,1130.1 1793.1,1120.1 1793.9,1131.3 1794.7,1123.7 1795.6,1126.1 1796.4,1116.0 1797.2,1123.3 1798.1,1118.2 1798.9,1123.2 1799.7,1128.6 1800.6,1124.5 1801.4,1124.0 1802.2,1127.5 1803.1,1117.1 1803.9,1123.4 1804.7,1120.0 1805.6,1128.2 1806.4,1119.5 1807.2,1130.7 1808.1,1132.7 1808.9,1112.8 1809.7,1122.2 1810.6,1108.5 1811.4,1128.9 1812.2,1118.9 1813.1,1126.1 1813.9,1124.5 1814.7,1118.6 1815.6,1115.7 1816.4,1128.4 1817.2,1120.2 1818.1,1124.4 1818.9,1129.9 1819.7,1122.9 1820.6,1121.6 1821.4,1118.2 1822.2,1125.3 1823.1,1119.1 1823.9,1115.0 1824.7,1120.3 1825.6,1120.1 1826.4,1115.3 1827.2,1121.9 1828.1,1127.0 1828.9,1125.8 1829.7,1132.8 1830.6,1128.5 1831.4,1124.3 1832.2,1113.3 1833.1,1124.2 1833.9,1129.0 1834.7,1120.7 1835.6,1130.0 1836.4,1114.8 1837.2,1124.4 1838.1,1127.2 1838.9,1131.4 1839.7,1122.9 1840.6,1132.6 1841.4,1121.5 1842.2,1114.5 1843.1,1122.6 1843.9,1129.9 1844.7,1121.5 1845.6,1131.2 1846.4,1122.2 1847.2,1132.4 1848.1,1112.4 1848.9,1134.3 1849.7,1113.2 1850.6,1122.9 1851.4,1117.4 1852.2,1124.7 1853.1,1122.1 1853.9,1121.7 1854.7,1126.3 1855.6,1127.9 1856.4,1121.5 1857.2,1129.2 1858.1,1114.7 1858.9,1117.9 1859.7,1116.4 1860.6,1125.5 1861.4,1127.6 1862.2,1121.0 1863.0,1120.0 1863.9,1117.2 1864.7,1126.5 1865.5,1133.8 1866.4,1117.9 1867.2,1122.2 1868.0,1121.1 1868.9,1123.0 1869.7,1127.4 1870.5,1102.4 1871.4,1120.5 1872.2,1127.1 1873.0,1118.7 1873.9,1129.4 1874.7,1130.1 1875.5,1118.5 1876.4,1119.3 1877.2,1129.6 1878.0,1115.1 1878.9,1118.0 1879.7,1115.2 1880.5,1123.5 1881.4,1124.9 1882.2,1125.6 1883.0,1124.6 1883.9,1116.3 1884.7,1129.0 1885.5,1122.9 1886.4,1121.2 1887.2,1139.3 1888.0,1123.8 1888.9,1124.9 1889.7,1127.3 1890.5,1133.1 1891.4,1123.1 1892.2,1126.6 1893.0,1111.6 1893.9,1118.3 1894.7,1133.3 1895.5,1133.0 1896.4,1122.4 1897.2,1118.7 1898.0,1116.4 1898.9,1117.2 1899.7,1120.3 1900.5,1114.6 1901.4,1122.6 1902.2,1122.3 1903.0,1117.0 1903.9,1116.7 1904.7,1117.3 1905.5,1120.7 1906.4,1122.0 1907.2,1128.4 1908.0,1114.5 1908.9,1119.8 1909.7,1123.3 1910.5,1124.7 1911.4,1127.4 1912.2,1121.1 1913.0,1129.3 1913.9,1134.5 1914.7,1125.4 1915.5,1130.9 1916.4,1128.0 1917.2,1125.5 1918.0,1122.2 1918.9,1124.5 1919.7,1133.4 1920.5,1123.7 1921.4,1119.5 1922.2,1120.9 1923.0,1127.2 1923.9,1120.2 1924.7,1127.9 1925.5,1127.0 1926.4,1124.5 1927.2,1131.6 1928.0,1117.0 1928.8,1120.7 1929.7,1122.5 1930.5,1125.3 1931.3,1116.7 1932.2,1120.5 1933.0,1129.8 1933.8,1121.4 1934.7,1127.9 1935.5,1122.1 1936.3,1119.6 1937.2,1125.8 1938.0,1129.7 1938.8,1123.0 1939.7,1116.8 1940.5,1119.4 1941.3,1121.0 1942.2,1121.9 1943.0,1118.5 1943.8,1126.6 1944.7,1117.9 1945.5,1128.0 1946.3,1117.9 1947.2,1118.3 1948.0,1128.7 1948.8,1126.7 1949.7,1121.5 1950.5,1117.4 1951.3,1122.0 1952.2,1123.4 1953.0,1124.4 1953.8,1132.9 1954.7,1119.1 1955.5,1123.2 1956.3,1123.5 1957.2,1116.4 1958.0,1128.9 1958.8,1131.4 1959.7,1123.1 1960.5,1114.5"/>
<polyline stroke="#0000ff" points="295.5,118.4 296.3,119.5 297.2,120.7 298.0,121.8 298.8,122.9 299.7,124.0 300.5,125.1 301.3,126.3 302.2,127.4 303.0,128.6 303.8,129.7 304.7,130.9 305.5,132.0 306.3,133.2 307.2,134.3 308.0,135.5 308.8,136.6 309.7,137.8 310.5,139.0 311.3,140.2 312.2,141.3 313.0,142.5 313.8,143.7 314.7,144.9 315.5,146.1 316.3,147.3 317.2,148.5 318.0,149.7 318.8,150.9 319.7,152.1 320.5,153.3 321.3,154.5 322.2,155.7 323.0,157.0 323.8,158.2 324.7,159.4 325.5,160.7 326.3,161.9 327.2,163.1 328.0,164.4 328.8,165.6 329.6,166.8 330.5,168.1 331.3,169.3 332.1,170.6 333.0,171.9 333.8,173.1 334.6,174.4 335.5,175.6 336.3,176.9 337.1,178.2 338.0,179.5 338.8,180.7 339.6,182.0 340.5,183.3 341.3,184.6 342.1,185.9 343.0,187.1 343.8,188.4 344.6,189.7 345.5,191.0 346.3,192.3 347.1,193.6 348.0,194.9 348.8,196.2 349.6,197.5 350.5,198.8 351.3,200.1 352.1,201.5 353.0,202.8 353.8,204.1 354.6,205.4 355.5,206.7 356.3,208.0 357.1,209.4 358.0,210.7 358.8,212.0 359.6,213.4 360.5,214.7 361.3,216.0 362.1,217.4 363.0,218.7 363.8,220.0 364.6,221.4 365.5,222.7 366.3,224.1 367.1,225.4 368.0,226.8 368.8,228.1 369.6,229.5 370.5,230.8 371.3,232.2 372.1,233.5 373.0,234.9 373.8,236.2 374.6,237.6 375.5,239.0 376.3,240.3 377.1,241.7 378.0,243.1 378.8,244.4 379.6,245.8 380.5,247.2 381.3,248.5 382.1,249.9 383.0,251.3 383.8,252.6 384.6,254.0 385.5,255.4 386.3,256.8 387.1,258.1 388.0,259.5 388.8,260.9 389.6,262.3 390.5,263.7 391.3,265.1 392.1,266.4 393.0,267.8 393.8,269.2 394.6,270.6 395.4,272.0 396.3,273.4 397.1,274.8 397.9,276.1 398.8,277.5 399.6,278.9 400.4,280.3 401.3,281.7 402.1,283.1 402.9,284.5 403.8,285.9 404.6,287.3 405.4,288.7 406.3,290.1 407.1,291.5 407.9,292.9 408.8,294.3 409.6,295.7 410.4,297.1 411.3,298.4 412.1,299.8 412.9,301.2 413.8,302.6 414.6,304.0 415.4,305.4 416.3,306.9 417.1,308.3 417.9,309.7 418.8,311.1 419.6,312.5 420.4,313.9 421.3,315.3 422.1,316.7 422.9,318.1 423.8,319.5 424.6,320.9 425.4,322.3 426.3,323.7 427.1,325.1 427.9,326.5 428.8,327.9 429.6,329.3 430.4,330.7 431.3,332.1 432.1,333.5 432.9,335.0 433.8,336.4 434.6,337.8 435.4,339.2 436.3,340.6 437.1,342.0 437.9,343.4 438.8,344.8 439.6,346.2 440.4,347.6 441.3,349.0 442.1,350.4 442.9,351.9 443.8,353.3 444.6,354.7 445.4,356.1 446.3,357.5 447.1,358.9 447.9,360.3 448.8,361.7 449.6,363.1 450.4,364.5 451.3,365.9 452.1,367.3 452.9,368.8 453.8,370.2 454.6,371.6 455.4,373.0 456.3,374.4 457.1,375.8 457.9,377.2 458.8,378.6 459.6,380.0 460.4,381.4 461.3,382.8 462.1,384.2 462.9,385.6 463.7,387.0 464.6,388.5 465.4,389.9 466.2,391.3 467.1,392.7 467.9,394.1 468.7,395.5 469.6,396.9 470.4,398.3 471.2,399.7 472.1,401.1 472.9,402.5 473.7,403.9 474.6,405.3 475.4,406.7 476.2,408.1 477.1,409.5 477.9,410.9 478.7,412.3 479.6,413.7 480.4,415.1 481.2,416.5 482.1,417.9 482.9,419.3 483.7,420.7 484.6,422.1 485.4,423.5 486.2,424.9 487.1,426.3 487.9,427.6 488.7,429.0 489.6,430.4 490.4,431.8 491.2,433.2 492.1,434.6 492.9,436.0 493.7,437.4 494.6,438.8 495.4,440.2 496.2,441.5 497.1,442.9 497.9,444.3 498.7,445.7 499.6,447.1 500.4,448.5 501.2,449.8 502.1,451.2 502.9,452.6 503.7,454.0 504.6,455.4 505.4,456.7 506.2,458.1 507.1,459.5 507.9,460.9 508.7,462.2 509.6,463.6 510.4,465.0 511.2,466.3 512.1,467.7 512.9,469.1 513.7,470.4 514.6,471.8 515.4,473.2 516.2,474.5 517.1,475.9 517.9,477.3 518.7,478.6 519.6,480.0 520.4,481.3 521.2,482.7 522.1,484.1 522.9,485.4 523.7,486.8 524.6,488.1 525.4,489.5 526.2,490.8 527.1,492.2 527.9,493.5 528.7,494.9 529.5,496.2 530.4,497.6 531.2,498.9 532.0,500.2 532.9,501.6 533.7,502.9 534.5,504.3 535.4,505.6 536.2,506.9 537.0,508.3 537.9,509.6 538.7,510.9 539.5,512.3 540.4,513.6 541.2,514.9 542.0,516.2 542.9,517.5 543.7,518.9 544.5,520.2 545.4,521.5 546.2,522.8 547.0,524.2 547.9,525.8 548.7,526.7 549.5,528.1 550.4,529.4 551.2,530.8 552.0,531.8 552.9,533.2 553.7,534.7 554.5,535.9 555.4,537.5 556.2,538.4 557.0,539.9 557.9,541.7 558.7,542.3 559.5,543.5 560.4,545.0 561.2,546.3 562.0,547.8 562.9,548.9 563.7,550.0 564.5,551.5 565.4,553.5 566.2,554.4 567.0,554.4 567.9,556.5 568.7,557.6 569.5,559.3 570.4,560.3 571.2,562.3 572.0,563.2 572.9,564.5 573.7,565.5 574.5,566.7 575.4,568.1 576.2,569.7 577.0,570.7 577.9,571.6 578.7,573.5 579.5,574.3 580.4,575.4 581.2,576.4 582.0,577.7 582.9,578.9 583.7,579.1 584.5,582.2 585.4,583.2 586.2,584.1 587.0,586.0 587.9,586.9 588.7,588.1 589.5,587.7 590.4,590.2 591.2,591.9 592.0,593.7 592.9,595.1 593.7,596.1 594.5,595.7 595.3,596.3 596.2,599.2 597.0,600.1 597.8,601.9 598.7,602.4 599.5,603.9 600.3,603.9 601.2,606.4 602.0,607.0 602.8,608.8 603.7,610.1 604.5,610.9 605.3,612.4 606.2,613.3 607.0,615.1 607.8,616.1 608.7,616.5 609.5,617.6 610.3,620.7 611.2,620.4 612.0,622.5 612.8,623.2 613.7,623.1 614.5,624.6 615.3,626.5 616.2,627.8 617.0,629.2 617.8,628.8 618.7,630.5 619.5,632.1 620.3,634.8 621.2,632.4 622.0,636.1 622.8,636.4 623.7,638.4 624.5,638.7 625.3,640.7 626.2,643.0 627.0,643.0 627.8,644.2 628.7,645.3 629.5,645.4 630.3,647.8 631.2,648.2 632.0,648.8 632.8,650.6 633.7,651.6 634.5,653.7 635.3,654.0 636.2,654.7 637.0,657.8 637.8,658.5 638.7,659.9 639.5,660.3 640.3,660.8 641.2,661.6 642.0,662.8 642.8,665.2 643.7,665.5 644.5,663.6 645.3,667.5 646.2,667.2 647.0,670.0 647.8,669.7 648.7,670.7 649.5,673.3 650.3,674.2 651.2,673.6 652.0,678.0 652.8,679.8 653.7,677.1 654.5,681.7 655.3,680.1 656.2,681.4 657.0,682.8 657.8,682.5 658.7,686.6 659.5,686.8 660.3,686.5 661.2,688.2 662.0,687.9 662.8,690.2 663.6,692.7 664.5,690.9 665.3,693.4 666.1,695.1 667.0,697.2 667.8,698.6 668.6,697.1 669.5,698.4 670.3,701.3 671.1,700.9 672.0,701.7 672.8,704.7 673.6,706.5 674.5,705.9 675.3,706.4 676.1,708.4 677.0,706.5 677.8,709.8 678.6,709.6 679.5,714.8 680.3,713.8 681.1,714.2 682.0,714.8 682.8,713.0 683.6,718.8 684.5,720.1 685.3,718.3 686.1,721.1 687.0,722.9 687.8,720.4 688.6,724.5 689.5,726.0 690.3,725.6 691.1,726.3 692.0,729.3 692.8,726.5 693.6,729.6 694.5,731.8 695.3,729.9 696.1,733.7 697.0,732.9 697.8,731.8 698.6,735.4 699.5,735.2 700.3,737.9 701.1,737.0 702.0,740.9 702.8,739.5 703.6,741.9 704.5,741.7 705.3,743.0 706.1,746.0 707.0,745.7 707.8,745.8 708.6,745.7 709.5,749.9 710.3,750.3 711.1,749.8 712.0,751.5 712.8,750.8 713.6,751.7 714.5,752.9 715.3,755.5 716.1,756.4 717.0,755.9 717.8,758.9 718.6,759.9 719.5,760.0 720.3,763.5 721.1,761.2 722.0,762.4 722.8,764.1 723.6,764.3 724.5,766.4 725.3,764.4 726.1,769.2 727.0,766.9 727.8,768.7 728.6,767.9 729.4,771.6 730.3,773.5 731.1,774.1 731.9,774.7 732.8,772.1 733.6,774.1 734.4,775.4 735.3,775.6 736.1,779.5 736.9,779.0 737.8,779.6 738.6,781.2 739.4,779.9 740.3,780.8 741.1,781.7 741.9,784.7 742.8,785.3 743.6,786.5 744.4,788.1 745.3,785.2 746.1,787.3 746.9,789.2 747.8,787.7 748.6,789.8 749.4,793.1 750.3,794.0 751.1,794.8 751.9,794.0 752.8,794.5 753.6,797.3 754.4,795.8 755.3,797.8 756.1,800.1 756.9,798.3 757.8,798.7 758.6,800.5 759.4,802.2 760.3,802.8 761.1,803.1 761.9,804.6 762.8,801.9 763.6,803.9 764.4,806.3 765.3,805.3 766.1,805.4 766.9,806.4 767.8,807.7 768.6,809.6 769.4,809.0 770.3,811.9 771.1,815.1 771.9,812.8 772.8,817.8 773.6,815.0 774.4,813.4 775.3,815.6 776.1,815.2 776.9,820.0 777.8,816.4 778.6,821.3 779.4,820.8 780.3,817.1 781.1,822.7 781.9,824.7 782.8,821.4 783.6,825.2 784.4,821.2 785.3,825.4 786.1,822.9 786.9,827.3 787.8,824.1 788.6,823.3 789.4,829.4 790.3,833.4 791.1,829.1 791.9,832.3 792.8,831.7 793.6,831.2 794.4,834.1 795.2,836.6 796.1,830.2 796.9,836.1 797.7,836.4 798.6,834.0 799.4,840.1 800.2,841.5 801.1,836.9 801.9,842.5 802.7,840.2 803.6,840.5 804.4,844.2 805.2,842.6 806.1,843.4 806.9,846.3 807.7,846.6 808.6,846.6 809.4,843.0 810.2,843.4 811.1,849.1 811.9,845.9 812.7,848.6 813.6,847.0 814.4,849.4 815.2,848.0 816.1,854.2 816.9,849.8 817.7,852.2 818.6,852.7 819.4,856.1 820.2,851.7 821.1,855.1 821.9,855.4 822.7,857.5 823.6,858.0 824.4,856.9 825.2,858.9 826.1,858.4 826.9,860.7 827.7,860.3 828.6,859.8 829.4,861.7 830.2,863.2 831.1,867.6 831.9,862.8 832.7,865.0 833.6,868.0 834.4,861.6 835.2,862.9 836.1,864.7 836.9,867.5 837.7,873.3 838.6,870.5 839.4,872.1 840.2,869.9 841.1,865.9 841.9,866.9 842.7,876.3 843.6,873.3 844.4,870.9 845.2,876.5 846.1,871.7 846.9,877.9 847.7,879.2 848.6,875.2 849.4,875.1 850.2,879.9 851.1,876.4 851.9,881.2 852.7,877.5 853.6,882.4 854.4,881.7 855.2,881.0 856.1,880.7 856.9,883.7 857.7,879.8 858.6,883.9 859.4,884.3 860.2,887.2 861.1,883.7 861.9,890.8 862.7,887.0 863.5,885.8 864.4,891.9 865.2,893.2 866.0,889.7 866.9,888.8 867.7,891.4 868.5,890.5 869.4,891.9 870.2,896.7 871.0,894.7 871.9,894.8 872.7,895.8 873.5,895.5 874.4,898.2 875.2,898.9 876.0,896.6 876.9,898.3 877.7,904.1 878.5,900.2 879.4,899.4 880.2,905.1 881.0,901.0 881.9,899.1 882.7,903.7 883.5,900.7 884.4,902.2 885.2,904.6 886.0,904.1 886.9,903.2 887.7,904.3 888.5,904.7 889.4,909.4 890.2,905.5 891.0,906.4 891.9,913.1 892.7,907.6 893.5,912.9 894.4,913.0 895.2,910.1 896.0,907.6 896.9,912.6 897.7,913.6 898.5,914.9 899.4,913.2 900.2,919.1 901.0,917.4 901.9,912.1 902.7,918.6 903.5,916.0 904.4,914.8 905.2,915.9 906.0,921.7 906.9,920.0 907.7,913.7 908.5,918.8 909.4,918.8 910.2,919.2 911.0,918.8 911.9,917.0 912.7,923.2 913.5,919.2 914.4,921.1 915.2,921.0 916.0,921.1 916.9,925.3 917.7,924.8 918.5,922.7 919.4,922.4 920.2,924.1 921.0,930.4 921.9,926.5 922.7,927.3 923.5,926.3 924.4,926.9 925.2,928.6 926.0,923.8 926.9,933.1 927.7,927.4 928.5,928.4 929.3,933.8 930.2,931.9 931.0,931.4 931.8,930.2 932.7,928.1 933.5,933.5 934.3,936.2 935.2,931.2 936.0,937.5 936.8,931.4 937.7,932.9 938.5,936.6 939.3,935.7 940.2,938.0 941.0,934.7 941.8,934.3 942.7,932.6 943.5,934.8 944.3,935.5 945.2,935.0 946.0,940.1 946.8,937.9 947.7,934.8 948.5,947.3 949.3,938.8 950.2,938.1 951.0,945.3 951.8,945.5 952.7,939.6 953.5,939.2 954.3,940.9 955.2,947.1 956.0,943.6 956.8,942.7 957.7,945.3 958.5,949.1 959.3,942.3 960.2,944.6 961.0,943.2 961.8,953.5 962.7,952.9 963.5,950.9 964.3,948.3 965.2,950.9 966.0,943.6 966.8,950.7 967.7,946.6 968.5,947.0 969.3,949.2 970.2,949.7 971.0,953.6 971.8,954.3 972.7,953.5 973.5,950.5 974.3,955.5 975.2,953.6 976.0,957.7 976.8,952.1 977.7,947.2 978.5,954.1 979.3,962.1 980.2,957.6 981.0,956.1 981.8,959.6 982.7,958.9 983.5,960.3 984.3,956.7 985.2,958.8 986.0,959.5 986.8,957.4 987.7,956.4 988.5,960.4 989.3,963.2 990.2,962.6 991.0,962.5 991.8,962.9 992.7,969.4 993.5,963.6 994.3,968.4 995.1,968.7 996.0,963.4 996.8,964.3 997.6,967.0 998.5,969.3 999.3,965.5 1000.1,966.0 1001.0,965.5 1001.8,961.9 1002.6,969.2 1003.5,965.4 1004.3,961.3 1005.1,966.4 1006.0,962.0 1006.8,964.5 1007.6,967.9 1008.5,965.4 1009.3,971.7 1010.1,964.3 1011.0,969.9 1011.8,971.1 1012.6,974.2 1013.5,972.9 1014.3,971.1 1015.1,970.9 1016.0,970.8 1016.8,974.8 1017.6,969.7 1018.5,973.6 1019.3,972.0 1020.1,973.4 1021.0,971.4 1021.8,979.8 1022.6,971.6 1023.5,974.7 1024.3,975.1 1025.1,976.5 1026.0,976.3 1026.8,976.6 1027.6,978.6 1028.5,971.2 1029.3,976.3 1030.1,972.7 1031.0,977.6 1031.8,973.5 1032.6,974.5 1033.5,977.7 1034.3,982.5 1035.1,980.3 1036.0,979.7 1036.8,983.5 1037.6,976.5 1038.5,973.2 1039.3,978.7 1040.1,979.5 1041.0,984.5 1041.8,987.7 1042.6,977.1 1043.5,989.4 1044.3,986.8 1045.1,984.8 1046.0,983.6 1046.8,990.4 1047.6,983.3 1048.5,981.8 1049.3,984.0 1050.1,979.5 1051.0,985.6 1051.8,984.0 1052.6,985.7 1053.5,986.1 1054.3,981.8 1055.1,989.6 1056.0,982.5 1056.8,988.8 1057.6,981.1 1058.5,987.7 1059.3,984.1 1060.1,987.1 1061.0,985.1 1061.8,980.5 1062.6,984.1 1063.4,988.2 1064.3,990.2 1065.1,983.7 1065.9,981.8 1066.8,983.6 1067.6,988.5 1068.4,987.4 1069.3,987.0 1070.1,992.6 1070.9,993.2 1071.8,992.7 1072.6,987.5 1073.4,991.0 1074.3,990.4 1075.1,986.6 1075.9,994.4 1076.8,992.3 1077.6,990.4 1078.4,996.8 1079.3,994.9 1080.1,995.4 1080.9,996.8 1081.8,995.4 1082.6,989.2 1083.4,992.3 1084.3,997.1 1085.1,991.5 1085.9,994.3 1086.8,995.7 1087.6,999.4 1088.4,999.2 1089.3,998.1 1090.1,994.7 1090.9,998.6 1091.8,997.5 1092.6,995.5 1093.4,1000.7 1094.3,998.1 1095.1,994.2 1095.9,1005.0 1096.8,996.3 1097.6,999.4 1098.4,992.5 1099.3,997.8 1100.1,994.9 1100.9,995.0 1101.8,992.1 1102.6,1012.4 1103.4,998.5 1104.3,1000.0 1105.1,1003.1 1105.9,998.9 1106.8,1001.6 1107.6,995.5 1108.4,1001.0 1109.3,999.2 1110.1,1002.5 1110.9,1001.6 1111.8,996.5 1112.6,995.2 1113.4,998.2 1114.3,1004.4 1115.1,1003.6 1115.9,1003.7 1116.8,995.7 1117.6,993.7 1118.4,1000.9 1119.3,1002.1 1120.1,1001.4 1120.9,1004.9 1121.8,1003.3 1122.6,1000.1 1123.4,1001.3 1124.3,1005.1 1125.1,1005.0 1125.9,1004.8 1126.8,1013.0 1127.6,1004.6 1128.4,1006.1 1129.2,999.4 1130.1,1004.9 1130.9,1008.1 1131.7,1008.5 1132.6,1005.7 1133.4,1008.3 1134.2,1007.4 1135.1,1000.9 1135.9,996.3 1136.7,1015.8 1137.6,1010.9 1138.4,1008.1 1139.2,1002.5 1140.1,1004.3 1140.9,1013.6 1141.7,999.5 1142.6,1008.2 1143.4,1012.6 1144.2,1010.3 1145.1,1012.6 1145.9,1009.8 1146.7,1026.3 1147.6,1003.8 1148.4,1006.1 1149.2,1012.0 1150.1,1016.3 1150.9,1011.3 1151.7,1015.4 1152.6,1010.0 1153.4,1007.9 1154.2,1017.2 1155.1,1018.0 1155.9,1018.1 1156.7,1011.4 1157.6,1009.1 1158.4,1009.2 1159.2,1012.8 1160.1,1015.8 1160.9,1015.8 1161.7,1009.1 1162.6,1015.0 1163.4,1014.6 1164.2,1015.1 1165.1,1014.9 1165.9,1014.4 1166.7,1017.5 1167.6,1016.0 1168.4,1016.6 1169.2,1013.5 1170.1,1017.5 1170.9,1015.9 1171.7,1009.0 1172.6,1018.4 1173.4,1016.0 1174.2,1020.4 1175.1,1016.7 1175.9,1017.1 1176.7,1018.4 1177.6,1017.8 1178.4,1016.4 1179.2,1011.8 1180.1,1025.1 1180.9,1012.9 1181.7,1017.6 1182.6,1021.3 1183.4,1020.5 1184.2,1021.4 1185.1,1022.3 1185.9,1024.3 1186.7,1021.0 1187.6,1030.6 1188.4,1016.6 1189.2,1021.2 1190.1,1019.3 1190.9,1018.8 1191.7,1022.0 1192.6,1026.4 1193.4,1018.7 1194.2,1018.9 1195.0,1024.3 1195.9,1023.8 1196.7,1029.1 1197.5,1025.9 1198.4,1023.1 1199.2,1021.3 1200.0,1023.4 1200.9,1022.2 1201.7,1018.0 1202.5,1023.2 1203.4,1022.7 1204.2,1022.6 1205.0,1022.1 1205.9,1030.0 1206.7,1026.5 1207.5,1027.6 1208.4,1022.0 1209.2,1020.7 1210.0,1023.6 1210.9,1025.7 1211.7,1023.6 1212.5,1024.4 1213.4,1032.0 1214.2,1026.5 1215.0,1021.9 1215.9,1024.1 1216.7,1023.4 1217.5,1026.7 1218.4,1021.8 1219.2,1025.6 1220.0,1031.4 1220.9,1026.7 1221.7,1023.3 1222.5,1024.6 1223.4,1027.5 1224.2,1029.0 1225.0,1030.5 1225.9,1027.0 1226.7,1022.7 1227.5,1038.0 1228.4,1029.1 1229.2,1029.6 1230.0,1029.4 1230.9,1024.5 1231.7,1027.3 1232.5,1029.6 1233.4,1032.7 1234.2,1029.4 1235.0,1017.3 1235.9,1028.3 1236.7,1031.9 1237.5,1034.4 1238.4,1032.3 1239.2,1039.2 1240.0,1035.3 1240.9,1035.2 1241.7,1033.8 1242.5,1025.0 1243.4,1033.7 1244.2,1032.9 1245.0,1028.7 1245.9,1033.1 1246.7,1032.6 1247.5,1027.7 1248.4,1030.8 1249.2,1030.4 1250.0,1032.4 1250.9,1030.0 1251.7,1033.9 1252.5,1024.5 1253.4,1030.9 1254.2,1025.7 1255.0,1030.4 1255.9,1034.4 1256.7,1032.6 1257.5,1032.2 1258.4,1033.3 1259.2,1039.0 1260.0,1028.7 1260.9,1036.6 1261.7,1027.4 1262.5,1031.6 1263.3,1034.1 1264.2,1030.3 1265.0,1034.6 1265.8,1036.7 1266.7,1029.4 1267.5,1033.8 1268.3,1032.8 1269.2,1026.8 1270.0,1033.7 1270.8,1031.5 1271.7,1039.9 1272.5,1031.4 1273.3,1041.6 1274.2,1031.1 1275.0,1042.8 1275.8,1037.4 1276.7,1037.2 1277.5,1038.7 1278.3,1039.2 1279.2,1041.3 1280.0,1042.7 1280.8,1034.6 1281.7,1031.2 1282.5,1025.7 1283.3,1034.8 1284.2,1039.4 1285.0,1038.0 1285.8,1037.1 1286.7,1035.4 1287.5,1034.3 1288.3,1035.8 1289.2,1038.6 1290.0,1030.2 1290.8,1040.2 1291.7,1026.4 1292.5,1036.9 1293.3,1035.1 1294.2,1036.2 1295.0,1029.9 1295.8,1033.3 1296.7,1037.1 1297.5,1033.8 1298.3,1048.1 1299.2,1036.7 1300.0,1035.8 1300.8,1036.3 1301.7,1034.3 1302.5,1028.9 1303.3,1037.8 1304.2,1040.2 1305.0,1033.0 1305.8,1039.2 1306.7,1034.4 1307.5,1039.2 1308.3,1040.9 1309.2,1041.5 1310.0,1041.4 1310.8,1036.9 1311.7,1043.4 1312.5,1038.1 1313.3,1041.4 1314.2,1043.0 1315.0,1039.0 1315.8,1035.2 1316.7,1042.9 1317.5,1036.0 1318.3,1037.0 1319.2,1036.3 1320.0,1044.2 1320.8,1040.3 1321.7,1031.9 1322.5,1044.1 1323.3,1049.6 1324.2,1048.6 1325.0,1039.1 1325.8,1041.8 1326.7,1043.6 1327.5,1045.3 1328.3,1041.9 1329.1,1037.4 1330.0,1045.0 1330.8,1044.5 1331.6,1036.7 1332.5,1040.7 1333.3,1043.4 1334.1,1042.4 1335.0,1044.6 1335.8,1045.8 1336.6,1044.9 1337.5,1042.3 1338.3,1032.4 1339.1,1045.5 1340.0,1048.7 1340.8,1051.2 1341.6,1043.1 1342.5,1043.2 1343.3,1049.3 1344.1,1049.4 1345.0,1045.0 1345.8,1046.6 1346.6,1040.7 1347.5,1046.2 1348.3,1040.6 1349.1,1043.4 1350.0,1043.6 1350.8,1042.3 1351.6,1035.7 1352.5,1041.0 1353.3,1045.8 1354.1,1044.3 1355.0,1043.0 1355.8,1046.5 1356.6,1047.6 1357.5,1048.4 1358.3,1041.7 1359.1,1045.2 1360.0,1043.8 1360.8,1041.7 1361.6,1039.2 1362.5,1045.0 1363.3,1041.9 1364.1,1054.4 1365.0,1045.3 1365.8,1044.8 1366.6,1044.2 1367.5,1053.7 1368.3,1042.1 1369.1,1045.4 1370.0,1043.0 1370.8,1045.8 1371.6,1046.0 1372.5,1051.0 1373.3,1040.7 1374.1,1046.5 1375.0,1053.4 1375.8,1044.7 1376.6,1046.1 1377.5,1039.9 1378.3,1036.2 1379.1,1046.7 1380.0,1056.4 1380.8,1045.4 1381.6,1039.7 1382.5,1048.6 1383.3,1047.9 1384.1,1051.8 1385.0,1051.5 1385.8,1046.7 1386.6,1049.5 1387.5,1040.5 1388.3,1052.6 1389.1,1048.9 1390.0,1052.7 1390.8,1052.7 1391.6,1047.2 1392.5,1047.8 1393.3,1044.9 1394.1,1040.0 1394.9,1048.1 1395.8,1049.4 1396.6,1044.3 1397.4,1051.9 1398.3,1049.4 1399.1,1051.0 1399.9,1045.9 1400.8,1041.9 1401.6,1052.5 1402.4,1051.9 1403.3,1049.0 1404.1,1047.8 1404.9,1048.5 1405.8,1049.1 1406.6,1047.7 1407.4,1041.4 1408.3,1053.2 1409.1,1043.8 1409.9,1048.7 1410.8,1048.9 1411.6,1051.3 1412.4,1043.6 1413.3,1055.5 1414.1,1053.2 1414.9,1053.8 1415.8,1055.9 1416.6,1047.4 1417.4,1037.6 1418.3,1052.3 1419.1,1056.5 1419.9,1055.9 1420.8,1048.9 1421.6,1050.8 1422.4,1052.5 1423.3,1043.7 1424.1,1048.6 1424.9,1048.8 1425.8,1058.2 1426.6,1048.9 1427.4,1058.3 1428.3,1051.8 1429.1,1044.8 1429.9,1061.3 1430.8,1047.9 1431.6,1054.7 1432.4,1059.4 1433.3,1050.0 1434.1,1047.1 1434.9,1056.8 1435.8,1052.7 1436.6,1047.3 1437.4,1048.0 1438.3,1051.0 1439.1,1056.8 1439.9,1051.6 1440.8,1055.7 1441.6,1066.3 1442.4,1058.4 1443.3,1064.7 1444.1,1058.4 1444.9,1046.4 1445.8,1058.5 1446.6,1054.8 1447.4,1052.9 1448.3,1048.9 1449.1,1046.8 1449.9,1044.7 1450.8,1053.6 1451.6,1048.8 1452.4,1050.4 1453.3,1051.3 1454.1,1056.8 1454.9,1052.8 1455.8,1052.9 1456.6,1059.8 1457.4,1052.9 1458.3,1059.2 1459.1,1049.9 1459.9,1055.9 1460.8,1055.0 1461.6,1055.3 1462.4,1052.7 1463.2,1050.3 1464.1,1053.5 1464.9,1052.9 1465.7,1059.3 1466.6,1058.9 1467.4,1049.9 1468.2,1057.8 1469.1,1053.1 1469.9,1057.2 1470.7,1053.2 1471.6,1049.1 1472.4,1059.8 1473.2,1057.4 1474.1,1050.3 1474.9,1047.5 1475.7,1053.4 1476.6,1050.7 1477.4,1054.3 1478.2,1058.5 1479.1,1062.3 1479.9,1054.5 1480.7,1062.0 1481.6,1061.1 1482.4,1052.6 1483.2,1049.1 1484.1,1060.0 1484.9,1059.0 1485.7,1066.6 1486.6,1062.7 1487.4,1059.9 1488.2,1063.9 1489.1,1052.2 1489.9,1057.6 1490.7,1055.6 1491.6,1064.4 1492.4,1059.4 1493.2,1043.8 1494.1,1063.0 1494.9,1053.2 1495.7,1060.5 1496.6,1055.2 1497.4,1058.4 1498.2,1060.1 1499.1,1058.3 1499.9,1053.3 1500.7,1063.6 1501.6,1059.3 1502.4,1057.6 1503.2,1060.8 1504.1,1055.5 1504.9,1066.0 1505.7,1059.8 1506.6,1059.5 1507.4,1059.5 1508.2,1054.1 1509.1,1053.0 1509.9,1059.1 1510.7,1059.8 1511.6,1064.2 1512.4,1060.3 1513.2,1053.7 1514.1,1060.8 1514.9,1062.1 1515.7,1062.9 1516.6,1060.1 1517.4,1053.3 1518.2,1063.8 1519.1,1055.6 1519.9,1061.3 1520.7,1052.0 1521.6,1062.3 1522.4,1055.6 1523.2,1063.8 1524.1,1066.8 1524.9,1064.3 1525.7,1054.1 1526.6,1055.1 1527.4,1055.5 1528.2,1062.3 1529.0,1062.4 1529.9,1060.1 1530.7,1060.9 1531.5,1062.1 1532.4,1062.5 1533.2,1067.1 1534.0,1059.5 1534.9,1060.6 1535.7,1051.6 1536.5,1054.0 1537.4,1056.8 1538.2,1054.7 1539.0,1061.0 1539.9,1064.6 1540.7,1058.2 1541.5,1058.0 1542.4,1057.9 1543.2,1060.8 1544.0,1057.9 1544.9,1062.2 1545.7,1061.7 1546.5,1061.9 1547.4,1063.8 1548.2,1060.6 1549.0,1061.2 1549.9,1068.3 1550.7,1060.4 1551.5,1064.2 1552.4,1060.9 1553.2,1058.7 1554.0,1058.8 1554.9,1057.2 1555.7,1060.9 1556.5,1058.3 1557.4,1059.1 1558.2,1066.4 1559.0,1060.5 1559.9,1066.2 1560.7,1062.3 1561.5,1065.0 1562.4,1058.5 1563.2,1061.9 1564.0,1073.0 1564.9,1065.0 1565.7,1065.9 1566.5,1062.5 1567.4,1065.3 1568.2,1056.4 1569.0,1057.8 1569.9,1063.5 1570.7,1065.3 1571.5,1059.9 1572.4,1060.9 1573.2,1060.2 1574.0,1061.0 1574.9,1056.5 1575.7,1055.5 1576.5,1061.6 1577.4,1047.2 1578.2,1057.7 1579.0,1059.1 1579.9,1057.4 1580.7,1063.2 1581.5,1060.2 1582.4,1061.8 1583.2,1057.7 1584.0,1059.0 1584.9,1064.6 1585.7,1064.0 1586.5,1060.3 1587.4,1064.1 1588.2,1063.3 1589.0,1063.2 1589.9,1069.7 1590.7,1060.8 1591.5,1064.5 1592.4,1064.5 1593.2,1061.6 1594.0,1057.5 1594.8,1065.9 1595.7,1064.0 1596.5,1063.0 1597.3,1063.0 1598.2,1063.0 1599.0,1058.9 1599.8,1064.3 1600.7,1054.9 1601.5,1062.9 1602.3,1056.3 1603.2,1061.5 1604.0,1066.3 1604.8,1062.0 1605.7,1061.0 1606.5,1065.5 1607.3,1062.0 1608.2,1061.4 1609.0,1061.5 1609.8,1070.2 1610.7,1066.4 1611.5,1065.6 1612.3,1058.1 1613.2,1066.3 1614.0,1057.7 1614.8,1065.7 1615.7,1058.6 1616.5,1072.4 1617.3,1056.1 1618.2,1069.2 1619.0,1067.3 1619.8,1055.7 1620.7,1062.7 1621.5,1075.9 1622.3,1069.0 1623.2,1056.4 1624.0,1061.6 1624.8,1058.7 1625.7,1059.4 1626.5,1061.1 1627.3,1072.3 1628.2,1064.7 1629.0,1063.1 1629.8,1062.6 1630.7,1067.2 1631.5,1069.9 1632.3,1060.1 1633.2,1070.9 1634.0,1059.4 1634.8,1063.1 1635.7,1066.4 1636.5,1072.1 1637.3,1062.9 1638.2,1065.8 1639.0,1070.4 1639.8,1067.4 1640.7,1069.7 1641.5,1069.3 1642.3,1065.8 1643.2,1067.5 1644.0,1068.8 1644.8,1064.6 1645.7,1072.0 1646.5,1055.8 1647.3,1060.7 1648.2,1071.4 1649.0,1066.8 1649.8,1062.0 1650.7,1066.7 1651.5,1069.9 1652.3,1062.5 1653.2,1068.5 1654.0,1064.5 1654.8,1064.6 1655.7,1064.8 1656.5,1070.2 1657.3,1060.2 1658.2,1063.6 1659.0,1068.3 1659.8,1059.8 1660.7,1058.2 1661.5,1067.9 1662.3,1065.4 1663.1,1064.8 1664.0,1066.1 1664.8,1061.1 1665.6,1078.7 1666.5,1061.1 1667.3,1063.6 1668.1,1059.2 1669.0,1063.8 1669.8,1072.6 1670.6,1065.8 1671.5,1068.4 1672.3,1063.6 1673.1,1074.0 1674.0,1066.6 1674.8,1060.2 1675.6,1069.4 1676.5,1064.2 1677.3,1068.7 1678.1,1066.6 1679.0,1067.2 1679.8,1066.6 1680.6,1062.0 1681.5,1059.3 1682.3,1070.5 1683.1,1065.5 1684.0,1067.5 1684.8,1064.1 1685.6,1048.6 1686.5,1060.5 1687.3,1072.6 1688.1,1062.7 1689.0,1064.6 1689.8,1059.7 1690.6,1061.6 1691.5,1064.7 1692.3,1065.4 1693.1,1066.1 1694.0,1063.6 1694.8,1063.9 1695.6,1066.5 1696.5,1068.0 1697.3,1065.9 1698.1,1074.5 1699.0,1067.6 1699.8,1067.4 1700.6,1063.7 1701.5,1071.4 1702.3,1062.1 1703.1,1059.4 1704.0,1062.4 1704.8,1069.6 1705.6,1061.6 1706.5,1072.7 1707.3,1066.8 1708.1,1060.0 1709.0,1065.9 1709.8,1075.0 1710.6,1063.1 1711.5,1061.1 1712.3,1069.4 1713.1,1073.0 1714.0,1071.7 1714.8,1065.6 1715.6,1068.0 1716.5,1068.6 1717.3,1072.5 1718.1,1076.9 1719.0,1066.7 1719.8,1073.1 1720.6,1065.7 1721.5,1070.0 1722.3,1063.1 1723.1,1063.9 1724.0,1069.3 1724.8,1063.3 1725.6,1071.4 1726.5,1065.0 1727.3,1067.8 1728.1,1067.1 1728.9,1066.0 1729.8,1068.1 1730.6,1072.5 1731.4,1081.7 1732.3,1062.2 1733.1,1069.0 1733.9,1066.9 1734.8,1063.5 1735.6,1069.0 1736.4,1063.7 1737.3,1067.4 1738.1,1073.4 1738.9,1058.6 1739.8,1069.0 1740.6,1069.9 1741.4,1063.5 1742.3,1070.3 1743.1,1069.5 1743.9,1066.4 1744.8,1073.5 1745.6,1062.1 1746.4,1070.9 1747.3,1067.0 1748.1,1058.7 1748.9,1067.3 1749.8,1066.5 1750.6,1071.8 1751.4,1061.4 1752.3,1067.3 1753.1,1066.1 1753.9,1075.4 1754.8,1063.2 1755.6,1073.1 1756.4,1060.3 1757.3,1069.9 1758.1,1067.7 1758.9,1070.1 1759.8,1065.2 1760.6,1059.5 1761.4,1061.4 1762.3,1074.4 1763.1,1069.4 1763.9,1064.5 1764.8,1072.6 1765.6,1065.1 1766.4,1065.1 1767.3,1063.0 1768.1,1073.9 1768.9,1077.5 1769.8,1064.2 1770.6,1069.9 1771.4,1073.1 1772.3,1078.3 1773.1,1057.7 1773.9,1069.3 1774.8,1071.6 1775.6,1062.0 1776.4,1070.6 1777.3,1069.6 1778.1,1074.6 1778.9,1066.1 1779.8,1070.7 1780.6,1066.1 1781.4,1071.6 1782.3,1069.6 1783.1,1067.2 1783.9,1062.5 1784.8,1076.4 1785.6,1074.0 1786.4,1073.0 1787.3,1066.0 1788.1,1067.4 1788.9,1083.1 1789.8,1072.4 1790.6,1065.2 1791.4,1069.3 1792.3,1069.8 1793.1,1068.2 1793.9,1064.9 1794.7,1074.9 1795.6,1071.9 1796.4,1068.3 1797.2,1062.1 1798.1,1066.6 1798.9,1069.3 1799.7,1076.5 1800.6,1067.7 1801.4,1074.4 1802.2,1070.0 1803.1,1066.0 1803.9,1056.7 1804.7,1064.1 1805.6,1062.7 1806.4,1068.8 1807.2,1071.1 1808.1,1075.9 1808.9,1069.5 1809.7,1064.3 1810.6,1089.7 1811.4,1071.1 1812.2,1068.5 1813.1,1068.5 1813.9,1063.6 1814.7,1075.0 1815.6,1071.5 1816.4,1077.0 1817.2,1074.9 1818.1,1073.8 1818.9,1075.6 1819.7,1068.6 1820.6,1067.9 1821.4,1069.7 1822.2,1064.3 1823.1,1069.3 1823.9,1068.5 1824.7,1073.1 1825.6,1070.0 1826.4,1061.4 1827.2,1070.3 1828.1,1076.6 1828.9,1061.8 1829.7,1066.7 1830.6,1070.3 1831.4,1064.2 1832.2,1065.3 1833.1,1070.5 1833.9,1064.3 1834.7,1071.7 1835.6,1072.2 1836.4,1064.6 1837.2,1070.5 1838.1,1075.4 1838.9,1069.7 1839.7,1072.5 1840.6,1073.4 1841.4,1069.5 1842.2,1075.0 1843.1,1072.3 1843.9,1066.1 1844.7,1075.0 1845.6,1074.6 1846.4,1074.4 1847.2,1067.8 1848.1,1072.8 1848.9,1082.5 1849.7,1071.8 1850.6,1076.2 1851.4,1076.8 1852.2,1070.7 1853.1,1073.9 1853.9,1069.6 1854.7,1075.8 1855.6,1070.0 1856.4,1066.1 1857.2,1070.9 1858.1,1070.7 1858.9,1072.8 1859.7,1073.2 1860.6,1065.8 1861.4,1068.1 1862.2,1072.8 1863.0,1073.4 1863.9,1071.6 1864.7,1083.3 1865.5,1076.4 1866.4,1070.9 1867.2,1074.6 1868.0,1077.4 1868.9,1073.0 1869.7,1063.4 1870.5,1071.8 1871.4,1071.7 1872.2,1081.2 1873.0,1063.1 1873.9,1078.6 1874.7,1070.8 1875.5,1075.8 1876.4,1070.3 1877.2,1072.4 1878.0,1076.8 1878.9,1072.1 1879.7,1076.5 1880.5,1071.4 1881.4,1069.9 1882.2,1070.8 1883.0,1069.5 1883.9,1071.3 1884.7,1078.1 1885.5,1066.5 1886.4,1064.3 1887.2,1071.8 1888.0,1079.7 1888.9,1076.8 1889.7,1078.1 1890.5,1077.7 1891.4,1068.7 1892.2,1072.6 1893.0,1059.9 1893.9,1069.3 1894.7,1074.9 1895.5,1065.0 1896.4,1062.7 1897.2,1066.3 1898.0,1073.2 1898.9,1077.6 1899.7,1084.2 1900.5,1078.9 1901.4,1065.4 1902.2,1061.8 1903.0,1073.1 1903.9,1077.3 1904.7,1065.1 1905.5,1070.1 1906.4,1070.5 1907.2,1072.7 1908.0,1071.8 1908.9,1075.0 1909.7,1077.5 1910.5,1073.0 1911.4,1076.2 1912.2,1081.9 1913.0,1068.1 1913.9,1068.0 1914.7,1075.2 1915.5,1081.4 1916.4,1073.7 1917.2,1078.0 1918.0,1071.6 1918.9,1077.2 1919.7,1070.2 1920.5,1076.2 1921.4,1074.9 1922.2,1074.9 1923.0,1079.5 1923.9,1078.1 1924.7,1070.5 1925.5,1081.3 1926.4,1065.5 1927.2,1077.9 1928.0,1086.0 1928.8,1075.8 1929.7,1075.8 1930.5,1073.7 1931.3,1081.2 1932.2,1071.5 1933.0,1076.6 1933.8,1071.7 1934.7,1071.7 1935.5,1074.2 1936.3,1073.4 1937.2,1065.8 1938.0,1083.3 1938.8,1074.4 1939.7,1066.0 1940.5,1078.8 1941.3,1073.7 1942.2,1074.8 1943.0,1077.2 1943.8,1069.8 1944.7,1060.4 1945.5,1073.5 1946.3,1075.1 1947.2,1078.7 1948.0,1070.6 1948.8,1072.9 1949.7,1076.0 1950.5,1072.7 1951.3,1073.0 1952.2,1075.4 1953.0,1069.6 1953.8,1081.5 1954.7,1070.0 1955.5,1074.5 1956.3,1072.8 1957.2,1071.1 1958.0,1076.8 1958.8,1079.0 1959.7,1081.1 1960.5,1077.1"/>
</g>
<rect x="292" y="1186.0" width="1666" height="44.0" fill="rgb(232,172,53)" fill-opacity="0.302"/>
<line x1="292" y1="1186.0" x2="1958" y2="1186.0" stroke="rgb(247,213,187)" stroke-opacity="0.3" stroke-width="6" stroke-dasharray="26 23" stroke-dashoffset="2"/>
<text transform="translate(293.50,1359.30) scale(1,1.09)" font-size="65" text-anchor="middle">0</text><text transform="translate(1128.00,1359.30) scale(1,1.09)" font-size="65" text-anchor="middle">100</text><text transform="translate(1960.50,1359.30) scale(1,1.09)" font-size="65" text-anchor="middle">200</text><text transform="translate(153.00,1080.00) scale(1,1.09)" font-size="65">10</text><text transform="translate(225.50,1052.60) scale(1,1.08)" font-size="43.5">3</text><text transform="translate(153.00,788.00) scale(1,1.09)" font-size="65">10</text><text transform="translate(225.50,760.60) scale(1,1.08)" font-size="43.5">4</text><text transform="translate(153.00,496.00) scale(1,1.09)" font-size="65">10</text><text transform="translate(225.50,468.60) scale(1,1.08)" font-size="43.5">5</text><text transform="translate(153.00,204.00) scale(1,1.09)" font-size="65">10</text><text transform="translate(225.50,176.60) scale(1,1.08)" font-size="43.5">6</text><text transform="translate(969.50,1451.70) scale(0.99,1.043)" font-size="67">Time [s]</text><text transform="translate(78.00,1178.30) rotate(-90) scale(1,1.053)" font-size="66.4">IRSL signal normalized to mass</text>
<rect x="1064.5" y="122.5" width="565" height="266.5" fill="#fff" stroke="#000" stroke-width="1.3"/><rect x="1080" y="155" width="121" height="7" fill="#000"/><rect x="1080" y="222" width="121" height="7" fill="#0000ff"/><rect x="1080" y="289" width="121" height="7" fill="#ff00ff"/><rect x="1080" y="329" width="120" height="60" fill="rgb(232,172,53)" fill-opacity="0.302"/><path d="M1080,329 H1200 M1080,329 V389 M1200,329 V389" fill="none" stroke="rgb(247,213,187)" stroke-opacity="0.3" stroke-width="4" stroke-dasharray="25 24"/><text transform="translate(1214.50,177.00) scale(0.989,1.045)" font-size="54.6">YAG undoped</text><text transform="translate(1214.50,244.00) scale(0.992,1.045)" font-size="54.6">YAG:Ce 0.1%</text><text transform="translate(1214.50,310.80) scale(0.992,1.045)" font-size="54.6">YAG:Ce 0.5%</text><text transform="translate(1216.00,378.00) scale(0.988,1.045)" font-size="54.6">background level</text>
</svg>
</body></html>
